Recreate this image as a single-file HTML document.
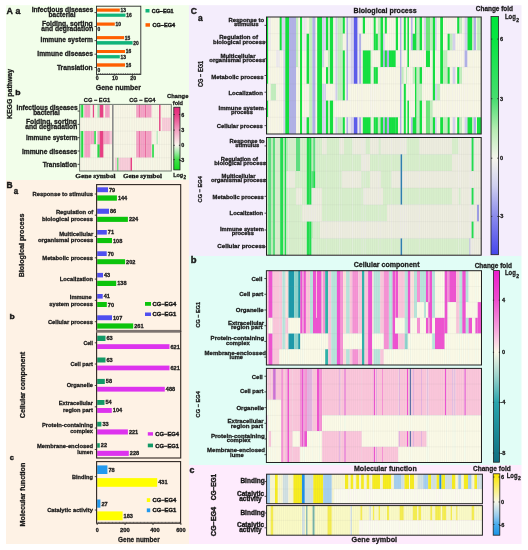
<!DOCTYPE html>
<html><head><meta charset="utf-8"><title>Figure</title>
<style>html,body{margin:0;padding:0;background:#fff;}svg{display:block;}</style></head>
<body><svg width="528" height="550" viewBox="0 0 528 550">
<rect x="0.00" y="0.00" width="528.00" height="550.00" fill="#ffffff" />
<rect x="6.00" y="5.20" width="183.00" height="174.80" fill="#f2feea" />
<rect x="6.00" y="180.00" width="183.00" height="364.00" fill="#fef2e5" />
<rect x="189.00" y="5.20" width="332.50" height="250.80" fill="#f4edfc" />
<rect x="189.00" y="256.00" width="332.50" height="209.00" fill="#e1fdf6" />
<rect x="189.00" y="465.00" width="332.50" height="79.00" fill="#feebfd" />
<text x="6.60" y="13.60" font-size="8.6" font-family="'Liberation Sans', Arial, sans-serif" font-weight="bold" fill="#1a1a1a" stroke="#1a1a1a" stroke-width="0.35" text-anchor="start" textLength="6.40" lengthAdjust="spacingAndGlyphs">A</text>
<text x="15.60" y="13.90" font-size="8.7" font-family="'Liberation Sans', Arial, sans-serif" font-weight="bold" fill="#1a1a1a" stroke="#1a1a1a" stroke-width="0.4" text-anchor="start" textLength="4.90" lengthAdjust="spacingAndGlyphs">a</text>
<text x="31.70" y="12.00" font-size="6.56" font-family="'Liberation Sans', Arial, sans-serif" font-weight="bold" fill="#1a1a1a" stroke="#1a1a1a" stroke-width="0.28" text-anchor="start" textLength="61.60" lengthAdjust="spacingAndGlyphs">Infectious diseases</text>
<text x="48.60" y="16.60" font-size="6.56" font-family="'Liberation Sans', Arial, sans-serif" font-weight="bold" fill="#1a1a1a" stroke="#1a1a1a" stroke-width="0.28" text-anchor="start" textLength="26.90" lengthAdjust="spacingAndGlyphs">bacterial</text>
<text x="41.90" y="25.90" font-size="6.56" font-family="'Liberation Sans', Arial, sans-serif" font-weight="bold" fill="#1a1a1a" stroke="#1a1a1a" stroke-width="0.28" text-anchor="start" textLength="50.80" lengthAdjust="spacingAndGlyphs">Folding, sorting</text>
<text x="41.30" y="30.50" font-size="6.56" font-family="'Liberation Sans', Arial, sans-serif" font-weight="bold" fill="#1a1a1a" stroke="#1a1a1a" stroke-width="0.28" text-anchor="start" textLength="52.00" lengthAdjust="spacingAndGlyphs">and degradation</text>
<text x="40.60" y="41.90" font-size="6.56" font-family="'Liberation Sans', Arial, sans-serif" font-weight="bold" fill="#1a1a1a" stroke="#1a1a1a" stroke-width="0.28" text-anchor="start" textLength="52.40" lengthAdjust="spacingAndGlyphs">Immune systerm</text>
<text x="37.30" y="55.90" font-size="6.56" font-family="'Liberation Sans', Arial, sans-serif" font-weight="bold" fill="#1a1a1a" stroke="#1a1a1a" stroke-width="0.28" text-anchor="start" textLength="55.70" lengthAdjust="spacingAndGlyphs">Immune diseases</text>
<text x="56.90" y="69.80" font-size="6.56" font-family="'Liberation Sans', Arial, sans-serif" font-weight="bold" fill="#1a1a1a" stroke="#1a1a1a" stroke-width="0.28" text-anchor="start" textLength="35.70" lengthAdjust="spacingAndGlyphs">Translation</text>
<rect x="97.00" y="8.50" width="22.80" height="3.20" fill="#ff5f00" />
<rect x="97.00" y="13.60" width="28.50" height="3.20" fill="#10b47a" />
<rect x="97.00" y="22.50" width="17.80" height="3.20" fill="#ff5f00" />
<rect x="97.00" y="36.10" width="27.10" height="3.10" fill="#ff5f00" />
<rect x="97.00" y="41.10" width="35.60" height="3.50" fill="#10b47a" />
<rect x="97.00" y="50.00" width="28.00" height="3.00" fill="#ff5f00" />
<rect x="97.00" y="55.10" width="22.80" height="3.30" fill="#10b47a" />
<rect x="97.00" y="63.30" width="28.00" height="3.40" fill="#ff5f00" />
<text x="120.50" y="12.00" font-size="4.9" font-family="'Liberation Sans', Arial, sans-serif" font-weight="bold" fill="#1a1a1a" stroke="#1a1a1a" stroke-width="0.28" text-anchor="start">13</text>
<text x="126.20" y="17.00" font-size="4.9" font-family="'Liberation Sans', Arial, sans-serif" font-weight="bold" fill="#1a1a1a" stroke="#1a1a1a" stroke-width="0.28" text-anchor="start">16</text>
<text x="115.50" y="26.00" font-size="4.9" font-family="'Liberation Sans', Arial, sans-serif" font-weight="bold" fill="#1a1a1a" stroke="#1a1a1a" stroke-width="0.28" text-anchor="start">10</text>
<text x="97.60" y="31.00" font-size="4.9" font-family="'Liberation Sans', Arial, sans-serif" font-weight="bold" fill="#1a1a1a" stroke="#1a1a1a" stroke-width="0.28" text-anchor="start">0</text>
<text x="124.80" y="39.50" font-size="4.9" font-family="'Liberation Sans', Arial, sans-serif" font-weight="bold" fill="#1a1a1a" stroke="#1a1a1a" stroke-width="0.28" text-anchor="start">15</text>
<text x="133.20" y="45.00" font-size="4.9" font-family="'Liberation Sans', Arial, sans-serif" font-weight="bold" fill="#1a1a1a" stroke="#1a1a1a" stroke-width="0.28" text-anchor="start">20</text>
<text x="125.70" y="53.30" font-size="4.9" font-family="'Liberation Sans', Arial, sans-serif" font-weight="bold" fill="#1a1a1a" stroke="#1a1a1a" stroke-width="0.28" text-anchor="start">16</text>
<text x="120.50" y="58.60" font-size="4.9" font-family="'Liberation Sans', Arial, sans-serif" font-weight="bold" fill="#1a1a1a" stroke="#1a1a1a" stroke-width="0.28" text-anchor="start">13</text>
<text x="125.70" y="67.00" font-size="4.9" font-family="'Liberation Sans', Arial, sans-serif" font-weight="bold" fill="#1a1a1a" stroke="#1a1a1a" stroke-width="0.28" text-anchor="start">16</text>
<text x="97.60" y="72.00" font-size="4.9" font-family="'Liberation Sans', Arial, sans-serif" font-weight="bold" fill="#1a1a1a" stroke="#1a1a1a" stroke-width="0.28" text-anchor="start">0</text>
<rect x="96.5" y="6.2" width="44.3" height="68.2" fill="none" stroke="#2a2a2a" stroke-width="0.9"/>
<line x1="94.50" y1="12.60" x2="96.50" y2="12.60" stroke="#222" stroke-width="0.8"/>
<line x1="94.50" y1="26.50" x2="96.50" y2="26.50" stroke="#222" stroke-width="0.8"/>
<line x1="94.50" y1="40.60" x2="96.50" y2="40.60" stroke="#222" stroke-width="0.8"/>
<line x1="94.50" y1="54.20" x2="96.50" y2="54.20" stroke="#222" stroke-width="0.8"/>
<line x1="94.50" y1="67.50" x2="96.50" y2="67.50" stroke="#222" stroke-width="0.8"/>
<line x1="97.00" y1="74.40" x2="97.00" y2="76.00" stroke="#222" stroke-width="0.8"/>
<line x1="114.80" y1="74.40" x2="114.80" y2="76.00" stroke="#222" stroke-width="0.8"/>
<line x1="132.60" y1="74.40" x2="132.60" y2="76.00" stroke="#222" stroke-width="0.8"/>
<text x="95.70" y="80.40" font-size="5.2" font-family="'Liberation Sans', Arial, sans-serif" font-weight="bold" fill="#1a1a1a" stroke="#1a1a1a" stroke-width="0.28" text-anchor="start">0</text>
<text x="112.00" y="80.40" font-size="5.2" font-family="'Liberation Sans', Arial, sans-serif" font-weight="bold" fill="#1a1a1a" stroke="#1a1a1a" stroke-width="0.28" text-anchor="start" textLength="5.80" lengthAdjust="spacingAndGlyphs">10</text>
<text x="130.30" y="80.40" font-size="5.2" font-family="'Liberation Sans', Arial, sans-serif" font-weight="bold" fill="#1a1a1a" stroke="#1a1a1a" stroke-width="0.28" text-anchor="start" textLength="5.70" lengthAdjust="spacingAndGlyphs">20</text>
<text x="95.70" y="90.00" font-size="7.0" font-family="'Liberation Sans', Arial, sans-serif" font-weight="bold" fill="#1a1a1a" stroke="#1a1a1a" stroke-width="0.28" text-anchor="start" textLength="45.30" lengthAdjust="spacingAndGlyphs">Gene number</text>
<rect x="145.50" y="9.00" width="4.00" height="3.50" fill="#10b47a" />
<text x="151.80" y="12.80" font-size="4.7" font-family="'Liberation Sans', Arial, sans-serif" font-weight="bold" fill="#1a1a1a" stroke="#1a1a1a" stroke-width="0.38" text-anchor="start" textLength="21.80" lengthAdjust="spacingAndGlyphs">CG−EG1</text>
<rect x="145.50" y="23.20" width="4.50" height="3.50" fill="#ff5f00" />
<text x="152.50" y="27.00" font-size="4.7" font-family="'Liberation Sans', Arial, sans-serif" font-weight="bold" fill="#1a1a1a" stroke="#1a1a1a" stroke-width="0.38" text-anchor="start" textLength="22.50" lengthAdjust="spacingAndGlyphs">CG−EG4</text>
<text x="15.20" y="94.60" font-size="7.8" font-family="'Liberation Sans', Arial, sans-serif" font-weight="bold" fill="#1a1a1a" stroke="#1a1a1a" stroke-width="0.4" text-anchor="start" textLength="5.30" lengthAdjust="spacingAndGlyphs">b</text>
<text transform="translate(12.40,119.10) rotate(-90)" x="0" y="0" font-size="6.8" font-family="'Liberation Sans', Arial, sans-serif" font-weight="bold" fill="#1a1a1a" stroke="#1a1a1a" stroke-width="0.28" textLength="50.20" lengthAdjust="spacingAndGlyphs">KEGG pathway</text>
<text x="83.80" y="102.20" font-size="5.5" font-family="'Liberation Sans', Arial, sans-serif" font-weight="bold" fill="#1a1a1a" stroke="#1a1a1a" stroke-width="0.28" text-anchor="start" textLength="26.50" lengthAdjust="spacingAndGlyphs">CG − EG1</text>
<text x="129.30" y="102.00" font-size="5.5" font-family="'Liberation Sans', Arial, sans-serif" font-weight="bold" fill="#1a1a1a" stroke="#1a1a1a" stroke-width="0.28" text-anchor="start" textLength="26.20" lengthAdjust="spacingAndGlyphs">CG − EG4</text>
<text x="16.60" y="110.30" font-size="6.56" font-family="'Liberation Sans', Arial, sans-serif" font-weight="bold" fill="#1a1a1a" stroke="#1a1a1a" stroke-width="0.28" text-anchor="start" textLength="61.00" lengthAdjust="spacingAndGlyphs">Infectious diseases</text>
<text x="33.20" y="114.60" font-size="6.56" font-family="'Liberation Sans', Arial, sans-serif" font-weight="bold" fill="#1a1a1a" stroke="#1a1a1a" stroke-width="0.28" text-anchor="start" textLength="26.50" lengthAdjust="spacingAndGlyphs">bacterial</text>
<text x="25.90" y="124.10" font-size="6.56" font-family="'Liberation Sans', Arial, sans-serif" font-weight="bold" fill="#1a1a1a" stroke="#1a1a1a" stroke-width="0.28" text-anchor="start" textLength="51.10" lengthAdjust="spacingAndGlyphs">Folding, sorting</text>
<text x="25.30" y="128.90" font-size="6.56" font-family="'Liberation Sans', Arial, sans-serif" font-weight="bold" fill="#1a1a1a" stroke="#1a1a1a" stroke-width="0.28" text-anchor="start" textLength="52.00" lengthAdjust="spacingAndGlyphs">and degradation</text>
<text x="25.90" y="140.30" font-size="6.56" font-family="'Liberation Sans', Arial, sans-serif" font-weight="bold" fill="#1a1a1a" stroke="#1a1a1a" stroke-width="0.28" text-anchor="start" textLength="51.70" lengthAdjust="spacingAndGlyphs">Immune systerm</text>
<text x="21.90" y="153.90" font-size="6.56" font-family="'Liberation Sans', Arial, sans-serif" font-weight="bold" fill="#1a1a1a" stroke="#1a1a1a" stroke-width="0.28" text-anchor="start" textLength="55.40" lengthAdjust="spacingAndGlyphs">Immune diseases</text>
<text x="42.80" y="166.50" font-size="6.56" font-family="'Liberation Sans', Arial, sans-serif" font-weight="bold" fill="#1a1a1a" stroke="#1a1a1a" stroke-width="0.28" text-anchor="start" textLength="34.20" lengthAdjust="spacingAndGlyphs">Translation</text>
<rect x="79.60" y="104.40" width="1.62" height="13.32" fill="#a8ecb8"/>
<rect x="79.60" y="117.72" width="1.62" height="13.32" fill="#f8f6e6"/>
<rect x="79.60" y="131.04" width="1.62" height="26.64" fill="#a8ecb8"/>
<rect x="79.60" y="157.68" width="1.62" height="13.32" fill="#f8f6e6"/>
<rect x="81.20" y="104.40" width="2.32" height="13.32" fill="#22dd44"/>
<rect x="81.20" y="117.72" width="2.32" height="13.32" fill="#f8f6e6"/>
<rect x="81.20" y="131.04" width="2.32" height="26.64" fill="#22dd44"/>
<rect x="81.20" y="157.68" width="2.32" height="13.32" fill="#f8f6e6"/>
<rect x="83.50" y="104.40" width="0.82" height="66.60" fill="#f8f6e6"/>
<rect x="84.30" y="104.40" width="6.22" height="13.32" fill="#f6a2c6"/>
<rect x="84.30" y="117.72" width="6.22" height="13.32" fill="#f8f6e6"/>
<rect x="84.30" y="131.04" width="6.22" height="26.64" fill="#f6a2c6"/>
<rect x="84.30" y="157.68" width="6.22" height="13.32" fill="#f8f6e6"/>
<rect x="90.50" y="104.40" width="2.32" height="26.64" fill="#f8f6e6"/>
<rect x="90.50" y="131.04" width="2.32" height="13.32" fill="#f6a2c6"/>
<rect x="90.50" y="144.36" width="2.32" height="26.64" fill="#f8f6e6"/>
<rect x="92.80" y="104.40" width="1.52" height="13.32" fill="#ea3f85"/>
<rect x="92.80" y="117.72" width="1.52" height="13.32" fill="#f8f6e6"/>
<rect x="92.80" y="131.04" width="1.52" height="13.32" fill="#f6a2c6"/>
<rect x="92.80" y="144.36" width="1.52" height="26.64" fill="#f8f6e6"/>
<rect x="94.30" y="104.40" width="1.62" height="26.64" fill="#f8f6e6"/>
<rect x="94.30" y="131.04" width="1.62" height="13.32" fill="#22dd44"/>
<rect x="94.30" y="144.36" width="1.62" height="26.64" fill="#f8f6e6"/>
<rect x="95.90" y="104.40" width="1.52" height="66.60" fill="#f8f6e6"/>
<rect x="97.40" y="104.40" width="2.32" height="13.32" fill="#a8ecb8"/>
<rect x="97.40" y="117.72" width="2.32" height="13.32" fill="#f8f6e6"/>
<rect x="97.40" y="131.04" width="2.32" height="13.32" fill="#f6a2c6"/>
<rect x="97.40" y="144.36" width="2.32" height="13.32" fill="#22dd44"/>
<rect x="97.40" y="157.68" width="2.32" height="13.32" fill="#f8f6e6"/>
<rect x="99.70" y="104.40" width="3.92" height="13.32" fill="#ea3f85"/>
<rect x="99.70" y="117.72" width="3.92" height="13.32" fill="#f8f6e6"/>
<rect x="99.70" y="131.04" width="3.92" height="26.64" fill="#ea3f85"/>
<rect x="99.70" y="157.68" width="3.92" height="13.32" fill="#f8f6e6"/>
<rect x="103.60" y="104.40" width="1.52" height="26.64" fill="#f8f6e6"/>
<rect x="103.60" y="131.04" width="1.52" height="13.32" fill="#f6a2c6"/>
<rect x="103.60" y="144.36" width="1.52" height="26.64" fill="#f8f6e6"/>
<rect x="105.10" y="104.40" width="4.72" height="13.32" fill="#f6a2c6"/>
<rect x="105.10" y="117.72" width="4.72" height="13.32" fill="#f8f6e6"/>
<rect x="105.10" y="131.04" width="4.72" height="13.32" fill="#f6a2c6"/>
<rect x="105.10" y="144.36" width="4.72" height="26.64" fill="#f8f6e6"/>
<rect x="109.80" y="104.40" width="2.22" height="26.64" fill="#f8f6e6"/>
<rect x="109.80" y="131.04" width="2.22" height="13.32" fill="#f9cdda"/>
<rect x="109.80" y="144.36" width="2.22" height="26.64" fill="#f8f6e6"/>
<path d="M81.90 104.4V171.0M84.20 104.4V171.0M86.50 104.4V171.0M88.80 104.4V171.0M91.10 104.4V171.0M93.40 104.4V171.0M95.70 104.4V171.0M98.00 104.4V171.0M100.30 104.4V171.0M102.60 104.4V171.0M104.90 104.4V171.0M107.20 104.4V171.0M109.50 104.4V171.0" stroke="#9a9a90" stroke-width="0.35" opacity="0.22" fill="none"/>
<path d="M79.6 117.72H112.0M79.6 131.04H112.0M79.6 144.36H112.0M79.6 157.68H112.0" stroke="#9a9a90" stroke-width="0.35" opacity="0.22" fill="none"/>
<rect x="113.60" y="104.40" width="1.32" height="66.60" fill="#f8f6e6"/>
<rect x="114.90" y="104.40" width="2.52" height="53.28" fill="#f8f6e6"/>
<rect x="114.90" y="157.68" width="2.52" height="13.32" fill="#f9cdda"/>
<rect x="117.40" y="104.40" width="1.12" height="53.28" fill="#f8f6e6"/>
<rect x="117.40" y="157.68" width="1.12" height="13.32" fill="#22dd44"/>
<rect x="118.50" y="104.40" width="12.02" height="53.28" fill="#f8f6e6"/>
<rect x="118.50" y="157.68" width="12.02" height="13.32" fill="#f9cdda"/>
<rect x="130.50" y="104.40" width="1.52" height="53.28" fill="#f8f6e6"/>
<rect x="130.50" y="157.68" width="1.52" height="13.32" fill="#ea3f85"/>
<rect x="132.00" y="104.40" width="4.22" height="66.60" fill="#f8f6e6"/>
<rect x="136.20" y="104.40" width="2.82" height="13.32" fill="#f6a2c6"/>
<rect x="136.20" y="117.72" width="2.82" height="13.32" fill="#f8f6e6"/>
<rect x="136.20" y="131.04" width="2.82" height="26.64" fill="#f6a2c6"/>
<rect x="136.20" y="157.68" width="2.82" height="13.32" fill="#f8f6e6"/>
<rect x="139.00" y="104.40" width="1.52" height="13.32" fill="#ee6fa4"/>
<rect x="139.00" y="117.72" width="1.52" height="13.32" fill="#f8f6e6"/>
<rect x="139.00" y="131.04" width="1.52" height="26.64" fill="#ee6fa4"/>
<rect x="139.00" y="157.68" width="1.52" height="13.32" fill="#f8f6e6"/>
<rect x="140.50" y="104.40" width="4.52" height="13.32" fill="#f6a2c6"/>
<rect x="140.50" y="117.72" width="4.52" height="13.32" fill="#f8f6e6"/>
<rect x="140.50" y="131.04" width="4.52" height="26.64" fill="#f6a2c6"/>
<rect x="140.50" y="157.68" width="4.52" height="13.32" fill="#f8f6e6"/>
<rect x="145.00" y="104.40" width="1.52" height="13.32" fill="#ee6fa4"/>
<rect x="145.00" y="117.72" width="1.52" height="13.32" fill="#f8f6e6"/>
<rect x="145.00" y="131.04" width="1.52" height="26.64" fill="#ee6fa4"/>
<rect x="145.00" y="157.68" width="1.52" height="13.32" fill="#f8f6e6"/>
<rect x="146.50" y="104.40" width="5.22" height="13.32" fill="#f6a2c6"/>
<rect x="146.50" y="117.72" width="5.22" height="13.32" fill="#f8f6e6"/>
<rect x="146.50" y="131.04" width="5.22" height="26.64" fill="#f6a2c6"/>
<rect x="146.50" y="157.68" width="5.22" height="13.32" fill="#f8f6e6"/>
<rect x="151.70" y="104.40" width="0.52" height="66.60" fill="#f8f6e6"/>
<rect x="152.20" y="104.40" width="1.72" height="39.96" fill="#f8f6e6"/>
<rect x="152.20" y="144.36" width="1.72" height="13.32" fill="#22dd44"/>
<rect x="152.20" y="157.68" width="1.72" height="13.32" fill="#f8f6e6"/>
<rect x="153.90" y="104.40" width="2.72" height="66.60" fill="#f8f6e6"/>
<rect x="156.60" y="104.40" width="1.22" height="26.64" fill="#f8f6e6"/>
<rect x="156.60" y="131.04" width="1.22" height="13.32" fill="#a8ecb8"/>
<rect x="156.60" y="144.36" width="1.22" height="26.64" fill="#f8f6e6"/>
<rect x="157.80" y="104.40" width="1.32" height="66.60" fill="#f8f6e6"/>
<rect x="159.10" y="104.40" width="1.62" height="26.64" fill="#ea3f85"/>
<rect x="159.10" y="131.04" width="1.62" height="39.96" fill="#f8f6e6"/>
<rect x="160.70" y="104.40" width="1.32" height="66.60" fill="#f8f6e6"/>
<rect x="162.00" y="104.40" width="9.32" height="13.32" fill="#f8f6e6"/>
<rect x="162.00" y="117.72" width="9.32" height="13.32" fill="#f9cdda"/>
<rect x="162.00" y="131.04" width="9.32" height="39.96" fill="#f8f6e6"/>
<path d="M115.90 104.4V171.0M118.20 104.4V171.0M120.50 104.4V171.0M122.80 104.4V171.0M125.10 104.4V171.0M127.40 104.4V171.0M129.70 104.4V171.0M132.00 104.4V171.0M134.30 104.4V171.0M136.60 104.4V171.0M138.90 104.4V171.0M141.20 104.4V171.0M143.50 104.4V171.0M145.80 104.4V171.0M148.10 104.4V171.0M150.40 104.4V171.0M152.70 104.4V171.0M155.00 104.4V171.0M157.30 104.4V171.0M159.60 104.4V171.0M161.90 104.4V171.0M164.20 104.4V171.0M166.50 104.4V171.0M168.80 104.4V171.0" stroke="#9a9a90" stroke-width="0.35" opacity="0.22" fill="none"/>
<path d="M113.6 117.72H171.3M113.6 131.04H171.3M113.6 144.36H171.3M113.6 157.68H171.3" stroke="#9a9a90" stroke-width="0.35" opacity="0.22" fill="none"/>
<rect x="79.60" y="104.40" width="91.70" height="66.60" fill="none" stroke="#6f7a70" stroke-width="1.0"/>
<rect x="112.00" y="104.40" width="1.60" height="66.60" fill="#8a8a8a"/>
<text x="75.30" y="177.50" font-size="6.2" font-family="'Liberation Serif', 'Times New Roman', serif" font-weight="bold" fill="#1a1a1a" stroke="#1a1a1a" stroke-width="0.28" text-anchor="start" textLength="40.30" lengthAdjust="spacingAndGlyphs">Gene symbol</text>
<text x="122.90" y="177.50" font-size="6.2" font-family="'Liberation Serif', 'Times New Roman', serif" font-weight="bold" fill="#1a1a1a" stroke="#1a1a1a" stroke-width="0.28" text-anchor="start" textLength="39.10" lengthAdjust="spacingAndGlyphs">Gene symbol</text>
<text x="167.10" y="97.70" font-size="5.6" font-family="'Liberation Sans', Arial, sans-serif" font-weight="bold" fill="#1a1a1a" stroke="#1a1a1a" stroke-width="0.28" text-anchor="start" textLength="21.30" lengthAdjust="spacingAndGlyphs">Change</text>
<text x="172.80" y="104.80" font-size="5.6" font-family="'Liberation Sans', Arial, sans-serif" font-weight="bold" fill="#1a1a1a" stroke="#1a1a1a" stroke-width="0.28" text-anchor="start" textLength="10.20" lengthAdjust="spacingAndGlyphs">fold</text>
<text x="173.20" y="176.50" font-size="6.0" font-family="'Liberation Sans', Arial, sans-serif" font-weight="bold" fill="#1a1a1a" stroke="#1a1a1a" stroke-width="0.28" text-anchor="start" textLength="10.00" lengthAdjust="spacingAndGlyphs">Log</text>
<text x="183.50" y="178.60" font-size="4.6" font-family="'Liberation Sans', Arial, sans-serif" font-weight="bold" fill="#1a1a1a" stroke="#1a1a1a" stroke-width="0.28" text-anchor="start">2</text>
<defs><linearGradient id="gA" x1="0" y1="0" x2="0" y2="1"><stop offset="0" stop-color="#e6287a"/><stop offset="0.116" stop-color="#e83c86"/><stop offset="0.363" stop-color="#f4a0c2"/><stop offset="0.605" stop-color="#faf6ee"/><stop offset="0.72" stop-color="#a0eca8"/><stop offset="0.832" stop-color="#44e04c"/><stop offset="1" stop-color="#12dc1e"/></linearGradient></defs><rect x="173.8" y="107.2" width="6.199999999999989" height="62.7" fill="url(#gA)" stroke="#222" stroke-width="0.8"/>
<text x="6.40" y="187.60" font-size="8.2" font-family="'Liberation Sans', Arial, sans-serif" font-weight="bold" fill="#1a1a1a" stroke="#1a1a1a" stroke-width="0.35" text-anchor="start" textLength="6.10" lengthAdjust="spacingAndGlyphs">B</text>
<text x="13.80" y="193.60" font-size="8.5" font-family="'Liberation Sans', Arial, sans-serif" font-weight="bold" fill="#1a1a1a" stroke="#1a1a1a" stroke-width="0.4" text-anchor="start" textLength="4.40" lengthAdjust="spacingAndGlyphs">a</text>
<text x="9.50" y="319.00" font-size="7.6" font-family="'Liberation Sans', Arial, sans-serif" font-weight="bold" fill="#1a1a1a" stroke="#1a1a1a" stroke-width="0.4" text-anchor="start" textLength="5.20" lengthAdjust="spacingAndGlyphs">b</text>
<text x="9.80" y="460.10" font-size="7.4" font-family="'Liberation Sans', Arial, sans-serif" font-weight="bold" fill="#1a1a1a" stroke="#1a1a1a" stroke-width="0.4" text-anchor="start" textLength="4.20" lengthAdjust="spacingAndGlyphs">c</text>
<text transform="translate(24.30,277.30) rotate(-90)" x="0" y="0" font-size="7.0" font-family="'Liberation Sans', Arial, sans-serif" font-weight="bold" fill="#1a1a1a" stroke="#1a1a1a" stroke-width="0.28" textLength="63.70" lengthAdjust="spacingAndGlyphs">Biological process</text>
<text transform="translate(24.60,418.20) rotate(-90)" x="0" y="0" font-size="7.0" font-family="'Liberation Sans', Arial, sans-serif" font-weight="bold" fill="#1a1a1a" stroke="#1a1a1a" stroke-width="0.28" textLength="66.40" lengthAdjust="spacingAndGlyphs">Cellular component</text>
<text transform="translate(25.00,526.40) rotate(-90)" x="0" y="0" font-size="7.0" font-family="'Liberation Sans', Arial, sans-serif" font-weight="bold" fill="#1a1a1a" stroke="#1a1a1a" stroke-width="0.28" textLength="63.70" lengthAdjust="spacingAndGlyphs">Molecular function</text>
<text x="32.60" y="196.20" font-size="5.9" font-family="'Liberation Sans', Arial, sans-serif" font-weight="bold" fill="#1a1a1a" stroke="#1a1a1a" stroke-width="0.28" text-anchor="start" textLength="60.40" lengthAdjust="spacingAndGlyphs">Response to stimulus</text>
<text x="55.90" y="214.10" font-size="5.9" font-family="'Liberation Sans', Arial, sans-serif" font-weight="bold" fill="#1a1a1a" stroke="#1a1a1a" stroke-width="0.28" text-anchor="start" textLength="37.40" lengthAdjust="spacingAndGlyphs">Regulation of</text>
<text x="41.90" y="220.70" font-size="5.9" font-family="'Liberation Sans', Arial, sans-serif" font-weight="bold" fill="#1a1a1a" stroke="#1a1a1a" stroke-width="0.28" text-anchor="start" textLength="51.10" lengthAdjust="spacingAndGlyphs">biological process</text>
<text x="59.20" y="235.50" font-size="5.9" font-family="'Liberation Sans', Arial, sans-serif" font-weight="bold" fill="#1a1a1a" stroke="#1a1a1a" stroke-width="0.28" text-anchor="start" textLength="34.10" lengthAdjust="spacingAndGlyphs">Multicellular</text>
<text x="37.90" y="242.20" font-size="5.9" font-family="'Liberation Sans', Arial, sans-serif" font-weight="bold" fill="#1a1a1a" stroke="#1a1a1a" stroke-width="0.28" text-anchor="start" textLength="55.40" lengthAdjust="spacingAndGlyphs">organismal process</text>
<text x="42.30" y="260.20" font-size="5.9" font-family="'Liberation Sans', Arial, sans-serif" font-weight="bold" fill="#1a1a1a" stroke="#1a1a1a" stroke-width="0.28" text-anchor="start" textLength="50.70" lengthAdjust="spacingAndGlyphs">Metabolic process</text>
<text x="59.80" y="281.20" font-size="5.9" font-family="'Liberation Sans', Arial, sans-serif" font-weight="bold" fill="#1a1a1a" stroke="#1a1a1a" stroke-width="0.28" text-anchor="start" textLength="33.20" lengthAdjust="spacingAndGlyphs">Localization</text>
<text x="69.80" y="299.10" font-size="5.9" font-family="'Liberation Sans', Arial, sans-serif" font-weight="bold" fill="#1a1a1a" stroke="#1a1a1a" stroke-width="0.28" text-anchor="start" textLength="21.90" lengthAdjust="spacingAndGlyphs">Immune</text>
<text x="49.20" y="306.00" font-size="5.9" font-family="'Liberation Sans', Arial, sans-serif" font-weight="bold" fill="#1a1a1a" stroke="#1a1a1a" stroke-width="0.28" text-anchor="start" textLength="43.80" lengthAdjust="spacingAndGlyphs">system process</text>
<text x="47.90" y="324.00" font-size="5.9" font-family="'Liberation Sans', Arial, sans-serif" font-weight="bold" fill="#1a1a1a" stroke="#1a1a1a" stroke-width="0.28" text-anchor="start" textLength="45.10" lengthAdjust="spacingAndGlyphs">Cellular process</text>
<text x="83.40" y="344.50" font-size="5.9" font-family="'Liberation Sans', Arial, sans-serif" font-weight="bold" fill="#1a1a1a" stroke="#1a1a1a" stroke-width="0.28" text-anchor="start" textLength="9.60" lengthAdjust="spacingAndGlyphs">Cell</text>
<text x="70.40" y="365.70" font-size="5.9" font-family="'Liberation Sans', Arial, sans-serif" font-weight="bold" fill="#1a1a1a" stroke="#1a1a1a" stroke-width="0.28" text-anchor="start" textLength="22.60" lengthAdjust="spacingAndGlyphs">Cell part</text>
<text x="66.70" y="387.30" font-size="5.9" font-family="'Liberation Sans', Arial, sans-serif" font-weight="bold" fill="#1a1a1a" stroke="#1a1a1a" stroke-width="0.28" text-anchor="start" textLength="26.30" lengthAdjust="spacingAndGlyphs">Organelle</text>
<text x="58.80" y="405.30" font-size="5.9" font-family="'Liberation Sans', Arial, sans-serif" font-weight="bold" fill="#1a1a1a" stroke="#1a1a1a" stroke-width="0.28" text-anchor="start" textLength="34.20" lengthAdjust="spacingAndGlyphs">Extracellular</text>
<text x="63.10" y="412.00" font-size="5.9" font-family="'Liberation Sans', Arial, sans-serif" font-weight="bold" fill="#1a1a1a" stroke="#1a1a1a" stroke-width="0.28" text-anchor="start" textLength="29.90" lengthAdjust="spacingAndGlyphs">region part</text>
<text x="41.90" y="426.60" font-size="5.9" font-family="'Liberation Sans', Arial, sans-serif" font-weight="bold" fill="#1a1a1a" stroke="#1a1a1a" stroke-width="0.28" text-anchor="start" textLength="51.10" lengthAdjust="spacingAndGlyphs">Protein-containing</text>
<text x="70.20" y="433.20" font-size="5.9" font-family="'Liberation Sans', Arial, sans-serif" font-weight="bold" fill="#1a1a1a" stroke="#1a1a1a" stroke-width="0.28" text-anchor="start" textLength="22.80" lengthAdjust="spacingAndGlyphs">complex</text>
<text x="37.00" y="448.00" font-size="5.9" font-family="'Liberation Sans', Arial, sans-serif" font-weight="bold" fill="#1a1a1a" stroke="#1a1a1a" stroke-width="0.28" text-anchor="start" textLength="56.00" lengthAdjust="spacingAndGlyphs">Membrane-enclosed</text>
<text x="77.30" y="454.40" font-size="5.9" font-family="'Liberation Sans', Arial, sans-serif" font-weight="bold" fill="#1a1a1a" stroke="#1a1a1a" stroke-width="0.28" text-anchor="start" textLength="15.70" lengthAdjust="spacingAndGlyphs">lumen</text>
<text x="72.00" y="478.80" font-size="5.9" font-family="'Liberation Sans', Arial, sans-serif" font-weight="bold" fill="#1a1a1a" stroke="#1a1a1a" stroke-width="0.28" text-anchor="start" textLength="20.90" lengthAdjust="spacingAndGlyphs">Binding</text>
<text x="47.20" y="511.70" font-size="5.9" font-family="'Liberation Sans', Arial, sans-serif" font-weight="bold" fill="#1a1a1a" stroke="#1a1a1a" stroke-width="0.28" text-anchor="start" textLength="45.70" lengthAdjust="spacingAndGlyphs">Catalytic activity</text>
<rect x="97.20" y="187.30" width="10.80" height="4.90" fill="#4f4ff0" />
<text x="109.00" y="191.75" font-size="5.6" font-family="'Liberation Sans', Arial, sans-serif" font-weight="bold" fill="#1a1a1a" stroke="#1a1a1a" stroke-width="0.28" text-anchor="start">79</text>
<rect x="97.20" y="195.40" width="19.70" height="5.30" fill="#0cc40c" />
<text x="117.90" y="200.05" font-size="5.6" font-family="'Liberation Sans', Arial, sans-serif" font-weight="bold" fill="#1a1a1a" stroke="#1a1a1a" stroke-width="0.28" text-anchor="start">144</text>
<rect x="97.20" y="208.70" width="11.80" height="5.10" fill="#4f4ff0" />
<text x="110.00" y="213.25" font-size="5.6" font-family="'Liberation Sans', Arial, sans-serif" font-weight="bold" fill="#1a1a1a" stroke="#1a1a1a" stroke-width="0.28" text-anchor="start">86</text>
<rect x="97.20" y="216.80" width="30.70" height="5.10" fill="#0cc40c" />
<text x="128.90" y="221.35" font-size="5.6" font-family="'Liberation Sans', Arial, sans-serif" font-weight="bold" fill="#1a1a1a" stroke="#1a1a1a" stroke-width="0.28" text-anchor="start">224</text>
<rect x="97.20" y="230.00" width="9.60" height="4.60" fill="#4f4ff0" />
<text x="107.80" y="234.30" font-size="5.6" font-family="'Liberation Sans', Arial, sans-serif" font-weight="bold" fill="#1a1a1a" stroke="#1a1a1a" stroke-width="0.28" text-anchor="start">71</text>
<rect x="97.20" y="238.00" width="14.80" height="5.10" fill="#0cc40c" />
<text x="113.00" y="242.55" font-size="5.6" font-family="'Liberation Sans', Arial, sans-serif" font-weight="bold" fill="#1a1a1a" stroke="#1a1a1a" stroke-width="0.28" text-anchor="start">108</text>
<rect x="97.20" y="251.30" width="9.50" height="4.70" fill="#4f4ff0" />
<text x="107.70" y="255.65" font-size="5.6" font-family="'Liberation Sans', Arial, sans-serif" font-weight="bold" fill="#1a1a1a" stroke="#1a1a1a" stroke-width="0.28" text-anchor="start">70</text>
<rect x="97.20" y="259.20" width="27.90" height="5.00" fill="#0cc40c" />
<text x="126.10" y="263.70" font-size="5.6" font-family="'Liberation Sans', Arial, sans-serif" font-weight="bold" fill="#1a1a1a" stroke="#1a1a1a" stroke-width="0.28" text-anchor="start">202</text>
<rect x="97.20" y="272.90" width="5.80" height="4.50" fill="#4f4ff0" />
<text x="104.00" y="277.15" font-size="5.6" font-family="'Liberation Sans', Arial, sans-serif" font-weight="bold" fill="#1a1a1a" stroke="#1a1a1a" stroke-width="0.28" text-anchor="start">43</text>
<rect x="97.20" y="280.80" width="19.00" height="5.20" fill="#0cc40c" />
<text x="117.20" y="285.40" font-size="5.6" font-family="'Liberation Sans', Arial, sans-serif" font-weight="bold" fill="#1a1a1a" stroke="#1a1a1a" stroke-width="0.28" text-anchor="start">138</text>
<rect x="97.20" y="294.00" width="5.50" height="4.60" fill="#4f4ff0" />
<text x="103.70" y="298.30" font-size="5.6" font-family="'Liberation Sans', Arial, sans-serif" font-weight="bold" fill="#1a1a1a" stroke="#1a1a1a" stroke-width="0.28" text-anchor="start">41</text>
<rect x="97.20" y="302.00" width="9.60" height="5.00" fill="#0cc40c" />
<text x="107.80" y="306.50" font-size="5.6" font-family="'Liberation Sans', Arial, sans-serif" font-weight="bold" fill="#1a1a1a" stroke="#1a1a1a" stroke-width="0.28" text-anchor="start">70</text>
<rect x="97.20" y="315.30" width="14.80" height="4.90" fill="#4f4ff0" />
<text x="113.00" y="319.75" font-size="5.6" font-family="'Liberation Sans', Arial, sans-serif" font-weight="bold" fill="#1a1a1a" stroke="#1a1a1a" stroke-width="0.28" text-anchor="start">107</text>
<rect x="97.20" y="323.40" width="36.00" height="5.20" fill="#0cc40c" />
<text x="134.20" y="328.00" font-size="5.6" font-family="'Liberation Sans', Arial, sans-serif" font-weight="bold" fill="#1a1a1a" stroke="#1a1a1a" stroke-width="0.28" text-anchor="start">261</text>
<rect x="97.20" y="335.70" width="8.30" height="5.30" fill="#129966" />
<text x="106.50" y="340.35" font-size="5.6" font-family="'Liberation Sans', Arial, sans-serif" font-weight="bold" fill="#1a1a1a" stroke="#1a1a1a" stroke-width="0.28" text-anchor="start">63</text>
<rect x="97.20" y="344.20" width="72.30" height="4.80" fill="#dd33ee" />
<text x="170.50" y="348.60" font-size="5.6" font-family="'Liberation Sans', Arial, sans-serif" font-weight="bold" fill="#1a1a1a" stroke="#1a1a1a" stroke-width="0.28" text-anchor="start">621</text>
<rect x="97.20" y="357.50" width="8.30" height="5.00" fill="#129966" />
<text x="106.50" y="362.00" font-size="5.6" font-family="'Liberation Sans', Arial, sans-serif" font-weight="bold" fill="#1a1a1a" stroke="#1a1a1a" stroke-width="0.28" text-anchor="start">63</text>
<rect x="97.20" y="365.60" width="72.30" height="4.70" fill="#dd33ee" />
<text x="170.50" y="369.95" font-size="5.6" font-family="'Liberation Sans', Arial, sans-serif" font-weight="bold" fill="#1a1a1a" stroke="#1a1a1a" stroke-width="0.28" text-anchor="start">621</text>
<rect x="97.20" y="378.90" width="7.60" height="5.10" fill="#129966" />
<text x="105.80" y="383.45" font-size="5.6" font-family="'Liberation Sans', Arial, sans-serif" font-weight="bold" fill="#1a1a1a" stroke="#1a1a1a" stroke-width="0.28" text-anchor="start">58</text>
<rect x="97.20" y="386.80" width="67.60" height="4.80" fill="#dd33ee" />
<text x="165.80" y="391.20" font-size="5.6" font-family="'Liberation Sans', Arial, sans-serif" font-weight="bold" fill="#1a1a1a" stroke="#1a1a1a" stroke-width="0.28" text-anchor="start">488</text>
<rect x="97.20" y="400.00" width="7.30" height="4.90" fill="#129966" />
<text x="105.50" y="404.45" font-size="5.6" font-family="'Liberation Sans', Arial, sans-serif" font-weight="bold" fill="#1a1a1a" stroke="#1a1a1a" stroke-width="0.28" text-anchor="start">54</text>
<rect x="97.20" y="408.00" width="14.60" height="4.90" fill="#dd33ee" />
<text x="112.80" y="412.45" font-size="5.6" font-family="'Liberation Sans', Arial, sans-serif" font-weight="bold" fill="#1a1a1a" stroke="#1a1a1a" stroke-width="0.28" text-anchor="start">104</text>
<rect x="97.20" y="421.80" width="4.20" height="4.70" fill="#129966" />
<text x="102.40" y="426.15" font-size="5.6" font-family="'Liberation Sans', Arial, sans-serif" font-weight="bold" fill="#1a1a1a" stroke="#1a1a1a" stroke-width="0.28" text-anchor="start">33</text>
<rect x="97.20" y="429.40" width="30.70" height="5.10" fill="#dd33ee" />
<text x="128.90" y="433.95" font-size="5.6" font-family="'Liberation Sans', Arial, sans-serif" font-weight="bold" fill="#1a1a1a" stroke="#1a1a1a" stroke-width="0.28" text-anchor="start">221</text>
<rect x="97.20" y="443.20" width="2.60" height="4.50" fill="#129966" />
<text x="100.80" y="447.45" font-size="5.6" font-family="'Liberation Sans', Arial, sans-serif" font-weight="bold" fill="#1a1a1a" stroke="#1a1a1a" stroke-width="0.28" text-anchor="start">22</text>
<rect x="97.20" y="450.80" width="31.60" height="5.10" fill="#dd33ee" />
<text x="129.80" y="455.35" font-size="5.6" font-family="'Liberation Sans', Arial, sans-serif" font-weight="bold" fill="#1a1a1a" stroke="#1a1a1a" stroke-width="0.28" text-anchor="start">228</text>
<rect x="97.20" y="465.40" width="10.20" height="8.60" fill="#2299ee" />
<text x="108.40" y="471.70" font-size="5.6" font-family="'Liberation Sans', Arial, sans-serif" font-weight="bold" fill="#1a1a1a" stroke="#1a1a1a" stroke-width="0.28" text-anchor="start">78</text>
<rect x="97.20" y="478.10" width="60.00" height="8.70" fill="#ffff00" />
<text x="158.20" y="484.45" font-size="5.6" font-family="'Liberation Sans', Arial, sans-serif" font-weight="bold" fill="#1a1a1a" stroke="#1a1a1a" stroke-width="0.28" text-anchor="start">431</text>
<rect x="97.20" y="499.50" width="3.20" height="8.20" fill="#2299ee" />
<text x="101.40" y="505.60" font-size="5.6" font-family="'Liberation Sans', Arial, sans-serif" font-weight="bold" fill="#1a1a1a" stroke="#1a1a1a" stroke-width="0.28" text-anchor="start">27</text>
<rect x="97.20" y="511.40" width="25.40" height="8.90" fill="#ffff00" />
<text x="123.60" y="517.85" font-size="5.6" font-family="'Liberation Sans', Arial, sans-serif" font-weight="bold" fill="#1a1a1a" stroke="#1a1a1a" stroke-width="0.28" text-anchor="start">183</text>
<rect x="96.6" y="184.6" width="84.1" height="146.7" fill="none" stroke="#2e2622" stroke-width="1.1"/>
<rect x="96.6" y="331.3" width="84.1" height="126.7" fill="none" stroke="#2e2622" stroke-width="1.1"/>
<rect x="96.10" y="329.90" width="84.10" height="2.80" fill="#7d7470" />
<rect x="96.6" y="461.6" width="84.0" height="61.6" fill="none" stroke="#2e2622" stroke-width="1.1"/>
<line x1="94.80" y1="194.00" x2="96.60" y2="194.00" stroke="#222" stroke-width="0.8"/>
<line x1="94.80" y1="215.20" x2="96.60" y2="215.20" stroke="#222" stroke-width="0.8"/>
<line x1="94.80" y1="236.50" x2="96.60" y2="236.50" stroke="#222" stroke-width="0.8"/>
<line x1="94.80" y1="257.80" x2="96.60" y2="257.80" stroke="#222" stroke-width="0.8"/>
<line x1="94.80" y1="279.10" x2="96.60" y2="279.10" stroke="#222" stroke-width="0.8"/>
<line x1="94.80" y1="300.40" x2="96.60" y2="300.40" stroke="#222" stroke-width="0.8"/>
<line x1="94.80" y1="321.70" x2="96.60" y2="321.70" stroke="#222" stroke-width="0.8"/>
<line x1="94.80" y1="342.80" x2="96.60" y2="342.80" stroke="#222" stroke-width="0.8"/>
<line x1="94.80" y1="364.00" x2="96.60" y2="364.00" stroke="#222" stroke-width="0.8"/>
<line x1="94.80" y1="385.50" x2="96.60" y2="385.50" stroke="#222" stroke-width="0.8"/>
<line x1="94.80" y1="406.80" x2="96.60" y2="406.80" stroke="#222" stroke-width="0.8"/>
<line x1="94.80" y1="428.00" x2="96.60" y2="428.00" stroke="#222" stroke-width="0.8"/>
<line x1="94.80" y1="449.50" x2="96.60" y2="449.50" stroke="#222" stroke-width="0.8"/>
<line x1="94.80" y1="476.60" x2="96.60" y2="476.60" stroke="#222" stroke-width="0.8"/>
<line x1="94.80" y1="510.00" x2="96.60" y2="510.00" stroke="#222" stroke-width="0.8"/>
<line x1="97.20" y1="523.20" x2="97.20" y2="525.00" stroke="#222" stroke-width="0.8"/>
<line x1="125.10" y1="523.20" x2="125.10" y2="525.00" stroke="#222" stroke-width="0.8"/>
<line x1="153.00" y1="523.20" x2="153.00" y2="525.00" stroke="#222" stroke-width="0.8"/>
<line x1="180.90" y1="523.20" x2="180.90" y2="525.00" stroke="#222" stroke-width="0.8"/>
<path d="M98.59 523.2v-1.4M99.99 523.2v-1.4M101.39 523.2v-1.4M102.78 523.2v-1.4M104.17 523.2v-1.4M105.57 523.2v-1.4M106.97 523.2v-1.4M108.36 523.2v-1.4M109.75 523.2v-1.4M111.15 523.2v-1.4M112.55 523.2v-1.4M113.94 523.2v-1.4M115.34 523.2v-1.4M116.73 523.2v-1.4M118.12 523.2v-1.4M119.52 523.2v-1.4M120.92 523.2v-1.4M122.31 523.2v-1.4M123.70 523.2v-1.4M125.10 523.2v-1.4M126.50 523.2v-1.4M127.89 523.2v-1.4M129.28 523.2v-1.4M130.68 523.2v-1.4M132.07 523.2v-1.4M133.47 523.2v-1.4M134.87 523.2v-1.4M136.26 523.2v-1.4M137.66 523.2v-1.4M139.05 523.2v-1.4M140.44 523.2v-1.4M141.84 523.2v-1.4M143.24 523.2v-1.4M144.63 523.2v-1.4M146.03 523.2v-1.4M147.42 523.2v-1.4M148.81 523.2v-1.4M150.21 523.2v-1.4M151.61 523.2v-1.4M153.00 523.2v-1.4M154.40 523.2v-1.4M155.79 523.2v-1.4M157.19 523.2v-1.4M158.58 523.2v-1.4M159.97 523.2v-1.4M161.37 523.2v-1.4M162.76 523.2v-1.4M164.16 523.2v-1.4M165.56 523.2v-1.4M166.95 523.2v-1.4M168.34 523.2v-1.4M169.74 523.2v-1.4M171.13 523.2v-1.4M172.53 523.2v-1.4M173.93 523.2v-1.4M175.32 523.2v-1.4M176.72 523.2v-1.4M178.11 523.2v-1.4M179.50 523.2v-1.4" stroke="#333" stroke-width="0.6"/>
<path d="M98.78 74.4v-1.4M100.56 74.4v-1.4M102.34 74.4v-1.4M104.12 74.4v-1.4M105.90 74.4v-1.4M107.68 74.4v-1.4M109.46 74.4v-1.4M111.24 74.4v-1.4M113.02 74.4v-1.4M114.80 74.4v-1.4M116.58 74.4v-1.4M118.36 74.4v-1.4M120.14 74.4v-1.4M121.92 74.4v-1.4M123.70 74.4v-1.4M125.48 74.4v-1.4M127.26 74.4v-1.4M129.04 74.4v-1.4M130.82 74.4v-1.4M132.60 74.4v-1.4M134.38 74.4v-1.4M136.16 74.4v-1.4M137.94 74.4v-1.4M139.72 74.4v-1.4" stroke="#333" stroke-width="0.6"/>
<text x="95.70" y="531.70" font-size="5.4" font-family="'Liberation Sans', Arial, sans-serif" font-weight="bold" fill="#1a1a1a" stroke="#1a1a1a" stroke-width="0.28" text-anchor="start">0</text>
<text x="120.00" y="531.70" font-size="5.4" font-family="'Liberation Sans', Arial, sans-serif" font-weight="bold" fill="#1a1a1a" stroke="#1a1a1a" stroke-width="0.28" text-anchor="start" textLength="9.80" lengthAdjust="spacingAndGlyphs">200</text>
<text x="150.20" y="531.70" font-size="5.4" font-family="'Liberation Sans', Arial, sans-serif" font-weight="bold" fill="#1a1a1a" stroke="#1a1a1a" stroke-width="0.28" text-anchor="start" textLength="9.50" lengthAdjust="spacingAndGlyphs">400</text>
<text x="176.20" y="531.70" font-size="5.4" font-family="'Liberation Sans', Arial, sans-serif" font-weight="bold" fill="#1a1a1a" stroke="#1a1a1a" stroke-width="0.28" text-anchor="start" textLength="9.40" lengthAdjust="spacingAndGlyphs">600</text>
<text x="118.00" y="541.80" font-size="6.4" font-family="'Liberation Sans', Arial, sans-serif" font-weight="bold" fill="#1a1a1a" stroke="#1a1a1a" stroke-width="0.28" text-anchor="start" textLength="41.70" lengthAdjust="spacingAndGlyphs">Gene number</text>
<rect x="145.00" y="302.00" width="6.00" height="3.80" fill="#0cc40c" />
<text x="152.50" y="306.00" font-size="5.3" font-family="'Liberation Sans', Arial, sans-serif" font-weight="bold" fill="#1a1a1a" stroke="#1a1a1a" stroke-width="0.38" text-anchor="start" textLength="23.70" lengthAdjust="spacingAndGlyphs">CG−EG4</text>
<rect x="145.00" y="312.50" width="6.00" height="3.50" fill="#4f4ff0" />
<text x="152.50" y="316.20" font-size="5.3" font-family="'Liberation Sans', Arial, sans-serif" font-weight="bold" fill="#1a1a1a" stroke="#1a1a1a" stroke-width="0.38" text-anchor="start" textLength="23.70" lengthAdjust="spacingAndGlyphs">CG−EG1</text>
<rect x="147.80" y="432.20" width="5.20" height="3.40" fill="#dd33ee" />
<text x="155.30" y="436.00" font-size="5.3" font-family="'Liberation Sans', Arial, sans-serif" font-weight="bold" fill="#1a1a1a" stroke="#1a1a1a" stroke-width="0.38" text-anchor="start" textLength="23.70" lengthAdjust="spacingAndGlyphs">CG−EG4</text>
<rect x="147.80" y="443.60" width="5.20" height="3.70" fill="#129966" />
<text x="155.30" y="447.50" font-size="5.3" font-family="'Liberation Sans', Arial, sans-serif" font-weight="bold" fill="#1a1a1a" stroke="#1a1a1a" stroke-width="0.38" text-anchor="start" textLength="23.70" lengthAdjust="spacingAndGlyphs">CG−EG1</text>
<rect x="146.80" y="498.20" width="3.40" height="3.80" fill="#ffff00" />
<text x="152.50" y="502.20" font-size="5.3" font-family="'Liberation Sans', Arial, sans-serif" font-weight="bold" fill="#1a1a1a" stroke="#1a1a1a" stroke-width="0.38" text-anchor="start" textLength="23.70" lengthAdjust="spacingAndGlyphs">CG−EG4</text>
<rect x="146.80" y="508.40" width="3.40" height="3.80" fill="#2299ee" />
<text x="152.50" y="512.40" font-size="5.3" font-family="'Liberation Sans', Arial, sans-serif" font-weight="bold" fill="#1a1a1a" stroke="#1a1a1a" stroke-width="0.38" text-anchor="start" textLength="23.70" lengthAdjust="spacingAndGlyphs">CG−EG1</text>
<text x="190.70" y="13.60" font-size="8.2" font-family="'Liberation Sans', Arial, sans-serif" font-weight="bold" fill="#1a1a1a" stroke="#1a1a1a" stroke-width="0.35" text-anchor="start" textLength="6.20" lengthAdjust="spacingAndGlyphs">C</text>
<text x="198.00" y="21.40" font-size="8.4" font-family="'Liberation Sans', Arial, sans-serif" font-weight="bold" fill="#1a1a1a" stroke="#1a1a1a" stroke-width="0.4" text-anchor="start" textLength="4.70" lengthAdjust="spacingAndGlyphs">a</text>
<text x="190.70" y="262.90" font-size="8.5" font-family="'Liberation Sans', Arial, sans-serif" font-weight="bold" fill="#1a1a1a" stroke="#1a1a1a" stroke-width="0.4" text-anchor="start" textLength="5.80" lengthAdjust="spacingAndGlyphs">b</text>
<text x="189.60" y="472.80" font-size="9.2" font-family="'Liberation Sans', Arial, sans-serif" font-weight="bold" fill="#1a1a1a" stroke="#1a1a1a" stroke-width="0.4" text-anchor="start" textLength="4.90" lengthAdjust="spacingAndGlyphs">c</text>
<text x="353.60" y="12.90" font-size="7.0" font-family="'Liberation Sans', Arial, sans-serif" font-weight="bold" fill="#1a1a1a" stroke="#1a1a1a" stroke-width="0.28" text-anchor="start" textLength="63.10" lengthAdjust="spacingAndGlyphs">Biological process</text>
<text x="353.70" y="267.20" font-size="7.0" font-family="'Liberation Sans', Arial, sans-serif" font-weight="bold" fill="#1a1a1a" stroke="#1a1a1a" stroke-width="0.28" text-anchor="start" textLength="65.80" lengthAdjust="spacingAndGlyphs">Cellular component</text>
<text x="354.00" y="471.40" font-size="7.0" font-family="'Liberation Sans', Arial, sans-serif" font-weight="bold" fill="#1a1a1a" stroke="#1a1a1a" stroke-width="0.28" text-anchor="start" textLength="62.70" lengthAdjust="spacingAndGlyphs">Molecular function</text>
<text x="351.60" y="541.90" font-size="7.0" font-family="'Liberation Sans', Arial, sans-serif" font-weight="bold" fill="#1a1a1a" stroke="#1a1a1a" stroke-width="0.28" text-anchor="start" textLength="45.50" lengthAdjust="spacingAndGlyphs">Gene symbol</text>
<text x="475.80" y="11.40" font-size="6.3" font-family="'Liberation Sans', Arial, sans-serif" font-weight="bold" fill="#1a1a1a" stroke="#1a1a1a" stroke-width="0.28" text-anchor="start" textLength="37.20" lengthAdjust="spacingAndGlyphs">Change fold</text>
<text x="474.70" y="267.50" font-size="6.3" font-family="'Liberation Sans', Arial, sans-serif" font-weight="bold" fill="#1a1a1a" stroke="#1a1a1a" stroke-width="0.28" text-anchor="start" textLength="37.30" lengthAdjust="spacingAndGlyphs">Change fold</text>
<text x="473.00" y="470.80" font-size="6.3" font-family="'Liberation Sans', Arial, sans-serif" font-weight="bold" fill="#1a1a1a" stroke="#1a1a1a" stroke-width="0.28" text-anchor="start" textLength="37.80" lengthAdjust="spacingAndGlyphs">Change fold</text>
<text x="505.00" y="19.30" font-size="6.6" font-family="'Liberation Sans', Arial, sans-serif" font-weight="bold" fill="#1a1a1a" stroke="#1a1a1a" stroke-width="0.28" text-anchor="start" textLength="10.80" lengthAdjust="spacingAndGlyphs">Log</text>
<text x="516.20" y="21.90" font-size="5.0" font-family="'Liberation Sans', Arial, sans-serif" font-weight="bold" fill="#1a1a1a" stroke="#1a1a1a" stroke-width="0.28" text-anchor="start">2</text>
<text x="505.00" y="275.40" font-size="6.6" font-family="'Liberation Sans', Arial, sans-serif" font-weight="bold" fill="#1a1a1a" stroke="#1a1a1a" stroke-width="0.28" text-anchor="start" textLength="10.80" lengthAdjust="spacingAndGlyphs">Log</text>
<text x="516.20" y="278.00" font-size="5.0" font-family="'Liberation Sans', Arial, sans-serif" font-weight="bold" fill="#1a1a1a" stroke="#1a1a1a" stroke-width="0.28" text-anchor="start">2</text>
<text x="506.70" y="477.60" font-size="6.6" font-family="'Liberation Sans', Arial, sans-serif" font-weight="bold" fill="#1a1a1a" stroke="#1a1a1a" stroke-width="0.28" text-anchor="start" textLength="10.80" lengthAdjust="spacingAndGlyphs">Log</text>
<text x="517.90" y="480.20" font-size="5.0" font-family="'Liberation Sans', Arial, sans-serif" font-weight="bold" fill="#1a1a1a" stroke="#1a1a1a" stroke-width="0.28" text-anchor="start">2</text>
<text x="228.40" y="22.10" font-size="6.0" font-family="'Liberation Sans', Arial, sans-serif" font-weight="bold" fill="#1a1a1a" stroke="#1a1a1a" stroke-width="0.28" text-anchor="start" textLength="35.70" lengthAdjust="spacingAndGlyphs">Response to</text>
<text x="233.90" y="26.30" font-size="6.0" font-family="'Liberation Sans', Arial, sans-serif" font-weight="bold" fill="#1a1a1a" stroke="#1a1a1a" stroke-width="0.28" text-anchor="start" textLength="24.70" lengthAdjust="spacingAndGlyphs">stimulus</text>
<text x="219.20" y="39.40" font-size="6.0" font-family="'Liberation Sans', Arial, sans-serif" font-weight="bold" fill="#1a1a1a" stroke="#1a1a1a" stroke-width="0.28" text-anchor="start" textLength="38.80" lengthAdjust="spacingAndGlyphs">Regulation of</text>
<text x="213.00" y="43.90" font-size="6.0" font-family="'Liberation Sans', Arial, sans-serif" font-weight="bold" fill="#1a1a1a" stroke="#1a1a1a" stroke-width="0.28" text-anchor="start" textLength="52.30" lengthAdjust="spacingAndGlyphs">biological process</text>
<text x="220.40" y="57.50" font-size="6.0" font-family="'Liberation Sans', Arial, sans-serif" font-weight="bold" fill="#1a1a1a" stroke="#1a1a1a" stroke-width="0.28" text-anchor="start" textLength="35.10" lengthAdjust="spacingAndGlyphs">Multicellular</text>
<text x="209.30" y="61.80" font-size="6.0" font-family="'Liberation Sans', Arial, sans-serif" font-weight="bold" fill="#1a1a1a" stroke="#1a1a1a" stroke-width="0.28" text-anchor="start" textLength="56.00" lengthAdjust="spacingAndGlyphs">organismal process</text>
<text x="211.20" y="78.50" font-size="6.0" font-family="'Liberation Sans', Arial, sans-serif" font-weight="bold" fill="#1a1a1a" stroke="#1a1a1a" stroke-width="0.28" text-anchor="start" textLength="52.30" lengthAdjust="spacingAndGlyphs">Metabolic process</text>
<text x="228.40" y="94.50" font-size="6.0" font-family="'Liberation Sans', Arial, sans-serif" font-weight="bold" fill="#1a1a1a" stroke="#1a1a1a" stroke-width="0.28" text-anchor="start" textLength="34.50" lengthAdjust="spacingAndGlyphs">Localization</text>
<text x="218.50" y="109.60" font-size="6.0" font-family="'Liberation Sans', Arial, sans-serif" font-weight="bold" fill="#1a1a1a" stroke="#1a1a1a" stroke-width="0.28" text-anchor="start" textLength="45.40" lengthAdjust="spacingAndGlyphs">Immune system</text>
<text x="230.90" y="113.80" font-size="6.0" font-family="'Liberation Sans', Arial, sans-serif" font-weight="bold" fill="#1a1a1a" stroke="#1a1a1a" stroke-width="0.28" text-anchor="start" textLength="22.10" lengthAdjust="spacingAndGlyphs">process</text>
<text x="216.70" y="128.30" font-size="6.0" font-family="'Liberation Sans', Arial, sans-serif" font-weight="bold" fill="#1a1a1a" stroke="#1a1a1a" stroke-width="0.28" text-anchor="start" textLength="46.20" lengthAdjust="spacingAndGlyphs">Cellular process</text>
<text x="229.60" y="143.20" font-size="6.0" font-family="'Liberation Sans', Arial, sans-serif" font-weight="bold" fill="#1a1a1a" stroke="#1a1a1a" stroke-width="0.28" text-anchor="start" textLength="35.10" lengthAdjust="spacingAndGlyphs">Response to</text>
<text x="235.20" y="147.30" font-size="6.0" font-family="'Liberation Sans', Arial, sans-serif" font-weight="bold" fill="#1a1a1a" stroke="#1a1a1a" stroke-width="0.28" text-anchor="start" textLength="24.00" lengthAdjust="spacingAndGlyphs">stimulus</text>
<text x="220.80" y="160.50" font-size="6.0" font-family="'Liberation Sans', Arial, sans-serif" font-weight="bold" fill="#1a1a1a" stroke="#1a1a1a" stroke-width="0.28" text-anchor="start" textLength="37.20" lengthAdjust="spacingAndGlyphs">Regulation of</text>
<text x="214.20" y="164.80" font-size="6.0" font-family="'Liberation Sans', Arial, sans-serif" font-weight="bold" fill="#1a1a1a" stroke="#1a1a1a" stroke-width="0.28" text-anchor="start" textLength="51.80" lengthAdjust="spacingAndGlyphs">biological process</text>
<text x="221.60" y="178.10" font-size="6.0" font-family="'Liberation Sans', Arial, sans-serif" font-weight="bold" fill="#1a1a1a" stroke="#1a1a1a" stroke-width="0.28" text-anchor="start" textLength="33.90" lengthAdjust="spacingAndGlyphs">Multicellular</text>
<text x="210.90" y="182.30" font-size="6.0" font-family="'Liberation Sans', Arial, sans-serif" font-weight="bold" fill="#1a1a1a" stroke="#1a1a1a" stroke-width="0.28" text-anchor="start" textLength="55.10" lengthAdjust="spacingAndGlyphs">organismal process</text>
<text x="212.60" y="199.30" font-size="6.0" font-family="'Liberation Sans', Arial, sans-serif" font-weight="bold" fill="#1a1a1a" stroke="#1a1a1a" stroke-width="0.28" text-anchor="start" textLength="51.30" lengthAdjust="spacingAndGlyphs">Metabolic process</text>
<text x="229.60" y="215.30" font-size="6.0" font-family="'Liberation Sans', Arial, sans-serif" font-weight="bold" fill="#1a1a1a" stroke="#1a1a1a" stroke-width="0.28" text-anchor="start" textLength="33.50" lengthAdjust="spacingAndGlyphs">Localization</text>
<text x="220.00" y="230.50" font-size="6.0" font-family="'Liberation Sans', Arial, sans-serif" font-weight="bold" fill="#1a1a1a" stroke="#1a1a1a" stroke-width="0.28" text-anchor="start" textLength="43.90" lengthAdjust="spacingAndGlyphs">Immune system</text>
<text x="231.80" y="234.70" font-size="6.0" font-family="'Liberation Sans', Arial, sans-serif" font-weight="bold" fill="#1a1a1a" stroke="#1a1a1a" stroke-width="0.28" text-anchor="start" textLength="22.20" lengthAdjust="spacingAndGlyphs">process</text>
<text x="217.30" y="248.20" font-size="6.0" font-family="'Liberation Sans', Arial, sans-serif" font-weight="bold" fill="#1a1a1a" stroke="#1a1a1a" stroke-width="0.28" text-anchor="start" textLength="48.00" lengthAdjust="spacingAndGlyphs">Cellular process</text>
<text x="251.40" y="280.90" font-size="6.0" font-family="'Liberation Sans', Arial, sans-serif" font-weight="bold" fill="#1a1a1a" stroke="#1a1a1a" stroke-width="0.28" text-anchor="start" textLength="11.10" lengthAdjust="spacingAndGlyphs">Cell</text>
<text x="239.20" y="295.90" font-size="6.0" font-family="'Liberation Sans', Arial, sans-serif" font-weight="bold" fill="#1a1a1a" stroke="#1a1a1a" stroke-width="0.28" text-anchor="start" textLength="24.20" lengthAdjust="spacingAndGlyphs">Cell part</text>
<text x="235.80" y="312.00" font-size="6.0" font-family="'Liberation Sans', Arial, sans-serif" font-weight="bold" fill="#1a1a1a" stroke="#1a1a1a" stroke-width="0.28" text-anchor="start" textLength="27.90" lengthAdjust="spacingAndGlyphs">Organelle</text>
<text x="228.00" y="324.60" font-size="6.0" font-family="'Liberation Sans', Arial, sans-serif" font-weight="bold" fill="#1a1a1a" stroke="#1a1a1a" stroke-width="0.28" text-anchor="start" textLength="36.20" lengthAdjust="spacingAndGlyphs">Extracellular</text>
<text x="231.00" y="329.00" font-size="6.0" font-family="'Liberation Sans', Arial, sans-serif" font-weight="bold" fill="#1a1a1a" stroke="#1a1a1a" stroke-width="0.28" text-anchor="start" textLength="31.50" lengthAdjust="spacingAndGlyphs">region part</text>
<text x="210.60" y="340.00" font-size="6.0" font-family="'Liberation Sans', Arial, sans-serif" font-weight="bold" fill="#1a1a1a" stroke="#1a1a1a" stroke-width="0.28" text-anchor="start" textLength="53.60" lengthAdjust="spacingAndGlyphs">Protein-containing</text>
<text x="225.90" y="344.50" font-size="6.0" font-family="'Liberation Sans', Arial, sans-serif" font-weight="bold" fill="#1a1a1a" stroke="#1a1a1a" stroke-width="0.28" text-anchor="start" textLength="23.80" lengthAdjust="spacingAndGlyphs">complex</text>
<text x="204.60" y="354.80" font-size="6.0" font-family="'Liberation Sans', Arial, sans-serif" font-weight="bold" fill="#1a1a1a" stroke="#1a1a1a" stroke-width="0.28" text-anchor="start" textLength="61.30" lengthAdjust="spacingAndGlyphs">Membrane-enclossed</text>
<text x="229.60" y="359.00" font-size="6.0" font-family="'Liberation Sans', Arial, sans-serif" font-weight="bold" fill="#1a1a1a" stroke="#1a1a1a" stroke-width="0.28" text-anchor="start" textLength="13.30" lengthAdjust="spacingAndGlyphs">lume</text>
<text x="251.80" y="378.60" font-size="6.0" font-family="'Liberation Sans', Arial, sans-serif" font-weight="bold" fill="#1a1a1a" stroke="#1a1a1a" stroke-width="0.28" text-anchor="start" textLength="10.90" lengthAdjust="spacingAndGlyphs">Cell</text>
<text x="239.90" y="393.00" font-size="6.0" font-family="'Liberation Sans', Arial, sans-serif" font-weight="bold" fill="#1a1a1a" stroke="#1a1a1a" stroke-width="0.28" text-anchor="start" textLength="23.50" lengthAdjust="spacingAndGlyphs">Cell part</text>
<text x="236.40" y="410.10" font-size="6.0" font-family="'Liberation Sans', Arial, sans-serif" font-weight="bold" fill="#1a1a1a" stroke="#1a1a1a" stroke-width="0.28" text-anchor="start" textLength="27.80" lengthAdjust="spacingAndGlyphs">Organelle</text>
<text x="227.60" y="423.00" font-size="6.0" font-family="'Liberation Sans', Arial, sans-serif" font-weight="bold" fill="#1a1a1a" stroke="#1a1a1a" stroke-width="0.28" text-anchor="start" textLength="36.10" lengthAdjust="spacingAndGlyphs">Extracellular</text>
<text x="230.70" y="427.50" font-size="6.0" font-family="'Liberation Sans', Arial, sans-serif" font-weight="bold" fill="#1a1a1a" stroke="#1a1a1a" stroke-width="0.28" text-anchor="start" textLength="32.30" lengthAdjust="spacingAndGlyphs">region part</text>
<text x="210.90" y="437.50" font-size="6.0" font-family="'Liberation Sans', Arial, sans-serif" font-weight="bold" fill="#1a1a1a" stroke="#1a1a1a" stroke-width="0.28" text-anchor="start" textLength="53.80" lengthAdjust="spacingAndGlyphs">Protein-containing</text>
<text x="226.70" y="442.00" font-size="6.0" font-family="'Liberation Sans', Arial, sans-serif" font-weight="bold" fill="#1a1a1a" stroke="#1a1a1a" stroke-width="0.28" text-anchor="start" textLength="23.90" lengthAdjust="spacingAndGlyphs">complex</text>
<text x="207.10" y="452.40" font-size="6.0" font-family="'Liberation Sans', Arial, sans-serif" font-weight="bold" fill="#1a1a1a" stroke="#1a1a1a" stroke-width="0.28" text-anchor="start" textLength="57.90" lengthAdjust="spacingAndGlyphs">Membrane-enclosed</text>
<text x="230.10" y="456.50" font-size="6.0" font-family="'Liberation Sans', Arial, sans-serif" font-weight="bold" fill="#1a1a1a" stroke="#1a1a1a" stroke-width="0.28" text-anchor="start" textLength="13.70" lengthAdjust="spacingAndGlyphs">lume</text>
<text x="240.40" y="482.50" font-size="6.5" font-family="'Liberation Sans', Arial, sans-serif" font-weight="bold" fill="#1a1a1a" stroke="#1a1a1a" stroke-width="0.36" text-anchor="start" textLength="24.30" lengthAdjust="spacingAndGlyphs">Binding</text>
<text x="237.00" y="495.50" font-size="6.5" font-family="'Liberation Sans', Arial, sans-serif" font-weight="bold" fill="#1a1a1a" stroke="#1a1a1a" stroke-width="0.36" text-anchor="start" textLength="27.20" lengthAdjust="spacingAndGlyphs">Catalytic</text>
<text x="239.20" y="500.50" font-size="6.5" font-family="'Liberation Sans', Arial, sans-serif" font-weight="bold" fill="#1a1a1a" stroke="#1a1a1a" stroke-width="0.36" text-anchor="start" textLength="22.50" lengthAdjust="spacingAndGlyphs">activity</text>
<text x="240.40" y="514.50" font-size="6.5" font-family="'Liberation Sans', Arial, sans-serif" font-weight="bold" fill="#1a1a1a" stroke="#1a1a1a" stroke-width="0.36" text-anchor="start" textLength="24.30" lengthAdjust="spacingAndGlyphs">Binding</text>
<text x="237.00" y="527.30" font-size="6.5" font-family="'Liberation Sans', Arial, sans-serif" font-weight="bold" fill="#1a1a1a" stroke="#1a1a1a" stroke-width="0.36" text-anchor="start" textLength="27.20" lengthAdjust="spacingAndGlyphs">Catalytic</text>
<text x="239.20" y="532.30" font-size="6.5" font-family="'Liberation Sans', Arial, sans-serif" font-weight="bold" fill="#1a1a1a" stroke="#1a1a1a" stroke-width="0.36" text-anchor="start" textLength="22.50" lengthAdjust="spacingAndGlyphs">activity</text>
<text transform="translate(203.00,87.00) rotate(-90)" x="0" y="0" font-size="6.4" font-family="'Liberation Sans', Arial, sans-serif" font-weight="bold" fill="#1a1a1a" stroke="#1a1a1a" stroke-width="0.28" textLength="26.20" lengthAdjust="spacingAndGlyphs">CG − EG1</text>
<text transform="translate(202.20,202.40) rotate(-90)" x="0" y="0" font-size="6.0" font-family="'Liberation Sans', Arial, sans-serif" font-weight="bold" fill="#1a1a1a" stroke="#1a1a1a" stroke-width="0.28" textLength="26.20" lengthAdjust="spacingAndGlyphs">CG − EG4</text>
<text transform="translate(200.20,327.40) rotate(-90)" x="0" y="0" font-size="5.4" font-family="'Liberation Sans', Arial, sans-serif" font-weight="bold" fill="#1a1a1a" stroke="#1a1a1a" stroke-width="0.28" textLength="25.50" lengthAdjust="spacingAndGlyphs">CG − EG1</text>
<text transform="translate(200.20,417.40) rotate(-90)" x="0" y="0" font-size="5.5" font-family="'Liberation Sans', Arial, sans-serif" font-weight="bold" fill="#1a1a1a" stroke="#1a1a1a" stroke-width="0.28" textLength="26.20" lengthAdjust="spacingAndGlyphs">CG − EG4</text>
<text transform="translate(215.70,500.30) rotate(-90)" x="0" y="0" font-size="6.6" font-family="'Liberation Sans', Arial, sans-serif" font-weight="bold" fill="#1a1a1a" stroke="#1a1a1a" stroke-width="0.4" textLength="26.50" lengthAdjust="spacingAndGlyphs">CG−EG1</text>
<text transform="translate(215.70,536.20) rotate(-90)" x="0" y="0" font-size="6.6" font-family="'Liberation Sans', Arial, sans-serif" font-weight="bold" fill="#1a1a1a" stroke="#1a1a1a" stroke-width="0.4" textLength="29.30" lengthAdjust="spacingAndGlyphs">CG−EG4</text>
<rect x="266.50" y="17.00" width="1.82" height="66.86" fill="#12e23e"/>
<rect x="266.50" y="83.86" width="1.82" height="16.71" fill="#c4f0bf"/>
<rect x="266.50" y="100.57" width="1.82" height="16.71" fill="#12e23e"/>
<rect x="266.50" y="117.29" width="1.82" height="16.71" fill="#c4f0bf"/>
<rect x="268.30" y="17.00" width="2.52" height="33.43" fill="#efecee"/>
<rect x="268.30" y="50.43" width="2.52" height="83.57" fill="#f9f8e6"/>
<rect x="270.80" y="17.00" width="5.42" height="66.86" fill="#f9f8e6"/>
<rect x="270.80" y="83.86" width="5.42" height="16.71" fill="#c4f0bf"/>
<rect x="270.80" y="100.57" width="5.42" height="33.43" fill="#f9f8e6"/>
<rect x="276.20" y="17.00" width="3.52" height="33.43" fill="#f9f8e6"/>
<rect x="276.20" y="50.43" width="3.52" height="16.71" fill="#efecee"/>
<rect x="276.20" y="67.14" width="3.52" height="66.86" fill="#f9f8e6"/>
<rect x="279.70" y="17.00" width="2.12" height="33.43" fill="#12e23e"/>
<rect x="279.70" y="50.43" width="2.12" height="83.57" fill="#f9f8e6"/>
<rect x="281.80" y="17.00" width="1.72" height="33.43" fill="#d6d3ee"/>
<rect x="281.80" y="50.43" width="1.72" height="83.57" fill="#f9f8e6"/>
<rect x="283.50" y="17.00" width="1.82" height="117.00" fill="#d6d3ee"/>
<rect x="285.30" y="17.00" width="3.72" height="117.00" fill="#12e23e"/>
<rect x="289.00" y="17.00" width="7.02" height="117.00" fill="#b2b2e8"/>
<rect x="296.00" y="17.00" width="2.02" height="50.14" fill="#c4f0bf"/>
<rect x="296.00" y="67.14" width="2.02" height="66.86" fill="#f9f8e6"/>
<rect x="298.00" y="17.00" width="2.02" height="117.00" fill="#f9f8e6"/>
<rect x="300.00" y="17.00" width="2.02" height="117.00" fill="#12e23e"/>
<rect x="302.00" y="17.00" width="4.62" height="33.43" fill="#efecee"/>
<rect x="302.00" y="50.43" width="4.62" height="66.86" fill="#f9f8e6"/>
<rect x="302.00" y="117.29" width="4.62" height="16.71" fill="#efecee"/>
<rect x="306.60" y="17.00" width="2.62" height="16.71" fill="#f9f8e6"/>
<rect x="306.60" y="33.71" width="2.62" height="50.14" fill="#12e23e"/>
<rect x="306.60" y="83.86" width="2.62" height="33.43" fill="#f9f8e6"/>
<rect x="306.60" y="117.29" width="2.62" height="16.71" fill="#12e23e"/>
<rect x="309.20" y="17.00" width="3.22" height="117.00" fill="#c4f0bf"/>
<rect x="312.40" y="17.00" width="3.22" height="117.00" fill="#b2b2e8"/>
<rect x="315.60" y="17.00" width="1.62" height="117.00" fill="#f9f8e6"/>
<rect x="317.20" y="17.00" width="5.02" height="117.00" fill="#12e23e"/>
<rect x="322.20" y="17.00" width="2.22" height="50.14" fill="#d6d3ee"/>
<rect x="322.20" y="67.14" width="2.22" height="16.71" fill="#f9f8e6"/>
<rect x="322.20" y="83.86" width="2.22" height="50.14" fill="#d6d3ee"/>
<rect x="324.40" y="17.00" width="1.62" height="33.43" fill="#d6d3ee"/>
<rect x="324.40" y="50.43" width="1.62" height="33.43" fill="#f9f8e6"/>
<rect x="324.40" y="83.86" width="1.62" height="50.14" fill="#d6d3ee"/>
<rect x="326.00" y="17.00" width="2.02" height="33.43" fill="#12e23e"/>
<rect x="326.00" y="50.43" width="2.02" height="16.71" fill="#f9f8e6"/>
<rect x="326.00" y="67.14" width="2.02" height="16.71" fill="#12e23e"/>
<rect x="326.00" y="83.86" width="2.02" height="16.71" fill="#f9f8e6"/>
<rect x="326.00" y="100.57" width="2.02" height="33.43" fill="#12e23e"/>
<rect x="328.00" y="17.00" width="2.02" height="66.86" fill="#c4f0bf"/>
<rect x="328.00" y="83.86" width="2.02" height="16.71" fill="#f9f8e6"/>
<rect x="328.00" y="100.57" width="2.02" height="33.43" fill="#c4f0bf"/>
<rect x="330.00" y="17.00" width="3.32" height="66.86" fill="#12e23e"/>
<rect x="330.00" y="83.86" width="3.32" height="16.71" fill="#f9f8e6"/>
<rect x="330.00" y="100.57" width="3.32" height="33.43" fill="#12e23e"/>
<rect x="333.30" y="17.00" width="2.12" height="117.00" fill="#f9f8e6"/>
<rect x="335.40" y="17.00" width="2.12" height="83.57" fill="#d6d3ee"/>
<rect x="335.40" y="100.57" width="2.12" height="16.71" fill="#f9f8e6"/>
<rect x="335.40" y="117.29" width="2.12" height="16.71" fill="#d6d3ee"/>
<rect x="337.50" y="17.00" width="5.32" height="83.57" fill="#c4f0bf"/>
<rect x="337.50" y="100.57" width="5.32" height="16.71" fill="#f9f8e6"/>
<rect x="337.50" y="117.29" width="5.32" height="16.71" fill="#c4f0bf"/>
<rect x="342.80" y="17.00" width="2.12" height="16.71" fill="#12e23e"/>
<rect x="342.80" y="33.71" width="2.12" height="16.71" fill="#f9f8e6"/>
<rect x="342.80" y="50.43" width="2.12" height="50.14" fill="#12e23e"/>
<rect x="342.80" y="100.57" width="2.12" height="16.71" fill="#f9f8e6"/>
<rect x="342.80" y="117.29" width="2.12" height="16.71" fill="#12e23e"/>
<rect x="344.90" y="17.00" width="1.62" height="117.00" fill="#f9f8e6"/>
<rect x="346.50" y="17.00" width="1.52" height="83.57" fill="#b2b2e8"/>
<rect x="346.50" y="100.57" width="1.52" height="16.71" fill="#f9f8e6"/>
<rect x="346.50" y="117.29" width="1.52" height="16.71" fill="#b2b2e8"/>
<rect x="348.00" y="17.00" width="2.72" height="66.86" fill="#efecee"/>
<rect x="348.00" y="83.86" width="2.72" height="33.43" fill="#f9f8e6"/>
<rect x="348.00" y="117.29" width="2.72" height="16.71" fill="#efecee"/>
<rect x="350.70" y="17.00" width="3.22" height="66.86" fill="#d6d3ee"/>
<rect x="350.70" y="83.86" width="3.22" height="33.43" fill="#f9f8e6"/>
<rect x="350.70" y="117.29" width="3.22" height="16.71" fill="#d6d3ee"/>
<rect x="353.90" y="17.00" width="3.72" height="66.86" fill="#5b5bec"/>
<rect x="353.90" y="83.86" width="3.72" height="33.43" fill="#f9f8e6"/>
<rect x="353.90" y="117.29" width="3.72" height="16.71" fill="#5b5bec"/>
<rect x="357.60" y="17.00" width="1.52" height="66.86" fill="#efecee"/>
<rect x="357.60" y="83.86" width="1.52" height="33.43" fill="#f9f8e6"/>
<rect x="357.60" y="117.29" width="1.52" height="16.71" fill="#efecee"/>
<rect x="359.10" y="17.00" width="2.12" height="16.71" fill="#f9f8e6"/>
<rect x="359.10" y="33.71" width="2.12" height="50.14" fill="#b2b2e8"/>
<rect x="359.10" y="83.86" width="2.12" height="33.43" fill="#f9f8e6"/>
<rect x="359.10" y="117.29" width="2.12" height="16.71" fill="#b2b2e8"/>
<rect x="361.20" y="17.00" width="1.62" height="117.00" fill="#f9f8e6"/>
<rect x="362.80" y="17.00" width="2.22" height="16.71" fill="#12e23e"/>
<rect x="362.80" y="33.71" width="2.22" height="16.71" fill="#f9f8e6"/>
<rect x="362.80" y="50.43" width="2.22" height="33.43" fill="#12e23e"/>
<rect x="362.80" y="83.86" width="2.22" height="33.43" fill="#f9f8e6"/>
<rect x="362.80" y="117.29" width="2.22" height="16.71" fill="#12e23e"/>
<rect x="365.00" y="17.00" width="5.72" height="33.43" fill="#f9f8e6"/>
<rect x="365.00" y="50.43" width="5.72" height="33.43" fill="#12e23e"/>
<rect x="365.00" y="83.86" width="5.72" height="33.43" fill="#f9f8e6"/>
<rect x="365.00" y="117.29" width="5.72" height="16.71" fill="#12e23e"/>
<rect x="370.70" y="17.00" width="0.92" height="33.43" fill="#f9f8e6"/>
<rect x="370.70" y="50.43" width="0.92" height="33.43" fill="#c4f0bf"/>
<rect x="370.70" y="83.86" width="0.92" height="33.43" fill="#f9f8e6"/>
<rect x="370.70" y="117.29" width="0.92" height="16.71" fill="#c4f0bf"/>
<rect x="371.60" y="17.00" width="2.12" height="117.00" fill="#f9f8e6"/>
<rect x="373.70" y="17.00" width="2.12" height="33.43" fill="#12e23e"/>
<rect x="373.70" y="50.43" width="2.12" height="16.71" fill="#f9f8e6"/>
<rect x="373.70" y="67.14" width="2.12" height="16.71" fill="#12e23e"/>
<rect x="373.70" y="83.86" width="2.12" height="33.43" fill="#f9f8e6"/>
<rect x="373.70" y="117.29" width="2.12" height="16.71" fill="#12e23e"/>
<rect x="375.80" y="17.00" width="2.12" height="16.71" fill="#f9f8e6"/>
<rect x="375.80" y="33.71" width="2.12" height="16.71" fill="#12e23e"/>
<rect x="375.80" y="50.43" width="2.12" height="16.71" fill="#f9f8e6"/>
<rect x="375.80" y="67.14" width="2.12" height="16.71" fill="#12e23e"/>
<rect x="375.80" y="83.86" width="2.12" height="33.43" fill="#f9f8e6"/>
<rect x="375.80" y="117.29" width="2.12" height="16.71" fill="#12e23e"/>
<rect x="377.90" y="17.00" width="2.62" height="33.43" fill="#c4f0bf"/>
<rect x="377.90" y="50.43" width="2.62" height="66.86" fill="#f9f8e6"/>
<rect x="377.90" y="117.29" width="2.62" height="16.71" fill="#c4f0bf"/>
<rect x="380.50" y="17.00" width="2.72" height="50.14" fill="#12e23e"/>
<rect x="380.50" y="67.14" width="2.72" height="50.14" fill="#f9f8e6"/>
<rect x="380.50" y="117.29" width="2.72" height="16.71" fill="#12e23e"/>
<rect x="383.20" y="17.00" width="1.62" height="16.71" fill="#f9f8e6"/>
<rect x="383.20" y="33.71" width="1.62" height="16.71" fill="#d6d3ee"/>
<rect x="383.20" y="50.43" width="1.62" height="16.71" fill="#b2b2e8"/>
<rect x="383.20" y="67.14" width="1.62" height="50.14" fill="#f9f8e6"/>
<rect x="383.20" y="117.29" width="1.62" height="16.71" fill="#b2b2e8"/>
<rect x="384.80" y="17.00" width="2.12" height="16.71" fill="#12e23e"/>
<rect x="384.80" y="33.71" width="2.12" height="16.71" fill="#f9f8e6"/>
<rect x="384.80" y="50.43" width="2.12" height="16.71" fill="#12e23e"/>
<rect x="384.80" y="67.14" width="2.12" height="50.14" fill="#f9f8e6"/>
<rect x="384.80" y="117.29" width="2.12" height="16.71" fill="#12e23e"/>
<rect x="386.90" y="17.00" width="2.12" height="33.43" fill="#f9f8e6"/>
<rect x="386.90" y="50.43" width="2.12" height="16.71" fill="#b2b2e8"/>
<rect x="386.90" y="67.14" width="2.12" height="50.14" fill="#f9f8e6"/>
<rect x="386.90" y="117.29" width="2.12" height="16.71" fill="#b2b2e8"/>
<rect x="389.00" y="17.00" width="6.82" height="33.43" fill="#f9f8e6"/>
<rect x="389.00" y="50.43" width="6.82" height="16.71" fill="#12e23e"/>
<rect x="389.00" y="67.14" width="6.82" height="50.14" fill="#f9f8e6"/>
<rect x="389.00" y="117.29" width="6.82" height="16.71" fill="#12e23e"/>
<rect x="395.80" y="17.00" width="2.22" height="33.43" fill="#12e23e"/>
<rect x="395.80" y="50.43" width="2.22" height="66.86" fill="#f9f8e6"/>
<rect x="395.80" y="117.29" width="2.22" height="16.71" fill="#12e23e"/>
<rect x="398.00" y="17.00" width="2.02" height="117.00" fill="#f9f8e6"/>
<rect x="400.00" y="17.00" width="1.62" height="117.00" fill="#b2b2e8"/>
<rect x="401.60" y="17.00" width="2.22" height="50.14" fill="#f9f8e6"/>
<rect x="401.60" y="67.14" width="2.22" height="16.71" fill="#c4f0bf"/>
<rect x="401.60" y="83.86" width="2.22" height="50.14" fill="#f9f8e6"/>
<rect x="403.80" y="17.00" width="2.12" height="33.43" fill="#12e23e"/>
<rect x="403.80" y="50.43" width="2.12" height="33.43" fill="#f9f8e6"/>
<rect x="403.80" y="83.86" width="2.12" height="50.14" fill="#12e23e"/>
<rect x="405.90" y="17.00" width="1.52" height="50.14" fill="#f9f8e6"/>
<rect x="405.90" y="67.14" width="1.52" height="16.71" fill="#c4f0bf"/>
<rect x="405.90" y="83.86" width="1.52" height="50.14" fill="#f9f8e6"/>
<rect x="407.40" y="17.00" width="1.62" height="50.14" fill="#12e23e"/>
<rect x="407.40" y="67.14" width="1.62" height="33.43" fill="#f9f8e6"/>
<rect x="407.40" y="100.57" width="1.62" height="33.43" fill="#12e23e"/>
<rect x="409.00" y="17.00" width="2.12" height="117.00" fill="#f9f8e6"/>
<rect x="411.10" y="17.00" width="1.62" height="33.43" fill="#b2b2e8"/>
<rect x="411.10" y="50.43" width="1.62" height="66.86" fill="#f9f8e6"/>
<rect x="411.10" y="117.29" width="1.62" height="16.71" fill="#b2b2e8"/>
<rect x="412.70" y="17.00" width="2.32" height="16.71" fill="#f9f8e6"/>
<rect x="412.70" y="33.71" width="2.32" height="16.71" fill="#12e23e"/>
<rect x="412.70" y="50.43" width="2.32" height="16.71" fill="#f9f8e6"/>
<rect x="412.70" y="67.14" width="2.32" height="16.71" fill="#c4f0bf"/>
<rect x="412.70" y="83.86" width="2.32" height="33.43" fill="#f9f8e6"/>
<rect x="412.70" y="117.29" width="2.32" height="16.71" fill="#12e23e"/>
<rect x="415.00" y="17.00" width="1.62" height="33.43" fill="#12e23e"/>
<rect x="415.00" y="50.43" width="1.62" height="16.71" fill="#f9f8e6"/>
<rect x="415.00" y="67.14" width="1.62" height="66.86" fill="#12e23e"/>
<rect x="416.60" y="17.00" width="3.02" height="33.43" fill="#c4f0bf"/>
<rect x="416.60" y="50.43" width="3.02" height="16.71" fill="#f9f8e6"/>
<rect x="416.60" y="67.14" width="3.02" height="66.86" fill="#c4f0bf"/>
<rect x="419.60" y="17.00" width="2.62" height="33.43" fill="#12e23e"/>
<rect x="419.60" y="50.43" width="2.62" height="16.71" fill="#f9f8e6"/>
<rect x="419.60" y="67.14" width="2.62" height="16.71" fill="#12e23e"/>
<rect x="419.60" y="83.86" width="2.62" height="16.71" fill="#c4f0bf"/>
<rect x="419.60" y="100.57" width="2.62" height="33.43" fill="#12e23e"/>
<rect x="422.20" y="17.00" width="1.82" height="117.00" fill="#f9f8e6"/>
<rect x="424.00" y="17.00" width="2.02" height="33.43" fill="#d6d3ee"/>
<rect x="424.00" y="50.43" width="2.02" height="83.57" fill="#f9f8e6"/>
<rect x="426.00" y="17.00" width="4.02" height="33.43" fill="#6ee87a"/>
<rect x="426.00" y="50.43" width="4.02" height="16.71" fill="#12e23e"/>
<rect x="426.00" y="67.14" width="4.02" height="33.43" fill="#f9f8e6"/>
<rect x="426.00" y="100.57" width="4.02" height="33.43" fill="#6ee87a"/>
<rect x="430.00" y="17.00" width="2.82" height="33.43" fill="#c4f0bf"/>
<rect x="430.00" y="50.43" width="2.82" height="50.14" fill="#f9f8e6"/>
<rect x="430.00" y="100.57" width="2.82" height="33.43" fill="#c4f0bf"/>
<rect x="432.80" y="17.00" width="2.22" height="83.57" fill="#12e23e"/>
<rect x="432.80" y="100.57" width="2.22" height="16.71" fill="#f9f8e6"/>
<rect x="432.80" y="117.29" width="2.22" height="16.71" fill="#12e23e"/>
<rect x="435.00" y="17.00" width="1.82" height="33.43" fill="#d6d3ee"/>
<rect x="435.00" y="50.43" width="1.82" height="33.43" fill="#f9f8e6"/>
<rect x="435.00" y="83.86" width="1.82" height="16.71" fill="#d6d3ee"/>
<rect x="435.00" y="100.57" width="1.82" height="16.71" fill="#f9f8e6"/>
<rect x="435.00" y="117.29" width="1.82" height="16.71" fill="#d6d3ee"/>
<rect x="436.80" y="17.00" width="3.42" height="66.86" fill="#f9f8e6"/>
<rect x="436.80" y="83.86" width="3.42" height="16.71" fill="#c4f0bf"/>
<rect x="436.80" y="100.57" width="3.42" height="33.43" fill="#f9f8e6"/>
<rect x="440.20" y="17.00" width="2.82" height="66.86" fill="#12e23e"/>
<rect x="440.20" y="83.86" width="2.82" height="33.43" fill="#f9f8e6"/>
<rect x="440.20" y="117.29" width="2.82" height="16.71" fill="#12e23e"/>
<rect x="443.00" y="17.00" width="4.62" height="33.43" fill="#f9f8e6"/>
<rect x="443.00" y="50.43" width="4.62" height="33.43" fill="#c4f0bf"/>
<rect x="443.00" y="83.86" width="4.62" height="33.43" fill="#f9f8e6"/>
<rect x="443.00" y="117.29" width="4.62" height="16.71" fill="#c4f0bf"/>
<rect x="447.60" y="17.00" width="2.22" height="16.71" fill="#f9f8e6"/>
<rect x="447.60" y="33.71" width="2.22" height="16.71" fill="#12e23e"/>
<rect x="447.60" y="50.43" width="2.22" height="16.71" fill="#f9f8e6"/>
<rect x="447.60" y="67.14" width="2.22" height="16.71" fill="#12e23e"/>
<rect x="447.60" y="83.86" width="2.22" height="33.43" fill="#f9f8e6"/>
<rect x="447.60" y="117.29" width="2.22" height="16.71" fill="#12e23e"/>
<rect x="449.80" y="17.00" width="2.92" height="16.71" fill="#f9f8e6"/>
<rect x="449.80" y="33.71" width="2.92" height="16.71" fill="#c4f0bf"/>
<rect x="449.80" y="50.43" width="2.92" height="83.57" fill="#f9f8e6"/>
<rect x="452.70" y="17.00" width="2.82" height="16.71" fill="#f9f8e6"/>
<rect x="452.70" y="33.71" width="2.82" height="16.71" fill="#d6d3ee"/>
<rect x="452.70" y="50.43" width="2.82" height="16.71" fill="#f9f8e6"/>
<rect x="452.70" y="67.14" width="2.82" height="16.71" fill="#d6d3ee"/>
<rect x="452.70" y="83.86" width="2.82" height="33.43" fill="#f9f8e6"/>
<rect x="452.70" y="117.29" width="2.82" height="16.71" fill="#d6d3ee"/>
<rect x="455.50" y="17.00" width="1.72" height="117.00" fill="#f9f8e6"/>
<rect x="457.20" y="17.00" width="2.32" height="16.71" fill="#12e23e"/>
<rect x="457.20" y="33.71" width="2.32" height="33.43" fill="#f9f8e6"/>
<rect x="457.20" y="67.14" width="2.32" height="16.71" fill="#12e23e"/>
<rect x="457.20" y="83.86" width="2.32" height="33.43" fill="#f9f8e6"/>
<rect x="457.20" y="117.29" width="2.32" height="16.71" fill="#12e23e"/>
<rect x="459.50" y="17.00" width="2.82" height="16.71" fill="#c4f0bf"/>
<rect x="459.50" y="33.71" width="2.82" height="33.43" fill="#f9f8e6"/>
<rect x="459.50" y="67.14" width="2.82" height="16.71" fill="#c4f0bf"/>
<rect x="459.50" y="83.86" width="2.82" height="33.43" fill="#f9f8e6"/>
<rect x="459.50" y="117.29" width="2.82" height="16.71" fill="#c4f0bf"/>
<rect x="462.30" y="17.00" width="2.32" height="117.00" fill="#f9f8e6"/>
<rect x="464.60" y="17.00" width="2.92" height="33.43" fill="#d6d3ee"/>
<rect x="464.60" y="50.43" width="2.92" height="16.71" fill="#b2b2e8"/>
<rect x="464.60" y="67.14" width="2.92" height="50.14" fill="#f9f8e6"/>
<rect x="464.60" y="117.29" width="2.92" height="16.71" fill="#d6d3ee"/>
<rect x="467.50" y="17.00" width="4.52" height="33.43" fill="#12e23e"/>
<rect x="467.50" y="50.43" width="4.52" height="66.86" fill="#f9f8e6"/>
<rect x="467.50" y="117.29" width="4.52" height="16.71" fill="#12e23e"/>
<rect x="472.00" y="17.00" width="1.72" height="33.43" fill="#c4f0bf"/>
<rect x="472.00" y="50.43" width="1.72" height="66.86" fill="#f9f8e6"/>
<rect x="472.00" y="117.29" width="1.72" height="16.71" fill="#c4f0bf"/>
<rect x="473.70" y="17.00" width="2.32" height="33.43" fill="#b2b2e8"/>
<rect x="473.70" y="50.43" width="2.32" height="66.86" fill="#f9f8e6"/>
<rect x="473.70" y="117.29" width="2.32" height="16.71" fill="#b2b2e8"/>
<rect x="476.00" y="17.00" width="1.02" height="117.00" fill="#f9f8e6"/>
<rect x="477.00" y="17.00" width="4.22" height="33.43" fill="#c4f0bf"/>
<rect x="477.00" y="50.43" width="4.22" height="66.86" fill="#f9f8e6"/>
<rect x="477.00" y="117.29" width="4.22" height="16.71" fill="#12e23e"/>
<path d="M268.62 17.0V134.0M270.74 17.0V134.0M272.86 17.0V134.0M274.98 17.0V134.0M277.10 17.0V134.0M279.22 17.0V134.0M281.34 17.0V134.0M283.46 17.0V134.0M285.58 17.0V134.0M287.70 17.0V134.0M289.82 17.0V134.0M291.94 17.0V134.0M294.06 17.0V134.0M296.18 17.0V134.0M298.30 17.0V134.0M300.42 17.0V134.0M302.54 17.0V134.0M304.66 17.0V134.0M306.78 17.0V134.0M308.90 17.0V134.0M311.02 17.0V134.0M313.14 17.0V134.0M315.26 17.0V134.0M317.38 17.0V134.0M319.50 17.0V134.0M321.62 17.0V134.0M323.74 17.0V134.0M325.86 17.0V134.0M327.98 17.0V134.0M330.10 17.0V134.0M332.22 17.0V134.0M334.34 17.0V134.0M336.46 17.0V134.0M338.58 17.0V134.0M340.70 17.0V134.0M342.82 17.0V134.0M344.94 17.0V134.0M347.06 17.0V134.0M349.18 17.0V134.0M351.30 17.0V134.0M353.42 17.0V134.0M355.54 17.0V134.0M357.66 17.0V134.0M359.78 17.0V134.0M361.90 17.0V134.0M364.02 17.0V134.0M366.14 17.0V134.0M368.26 17.0V134.0M370.38 17.0V134.0M372.50 17.0V134.0M374.62 17.0V134.0M376.74 17.0V134.0M378.86 17.0V134.0M380.98 17.0V134.0M383.10 17.0V134.0M385.22 17.0V134.0M387.34 17.0V134.0M389.46 17.0V134.0M391.58 17.0V134.0M393.70 17.0V134.0M395.82 17.0V134.0M397.94 17.0V134.0M400.06 17.0V134.0M402.18 17.0V134.0M404.30 17.0V134.0M406.42 17.0V134.0M408.54 17.0V134.0M410.66 17.0V134.0M412.78 17.0V134.0M414.90 17.0V134.0M417.02 17.0V134.0M419.14 17.0V134.0M421.26 17.0V134.0M423.38 17.0V134.0M425.50 17.0V134.0M427.62 17.0V134.0M429.74 17.0V134.0M431.86 17.0V134.0M433.98 17.0V134.0M436.10 17.0V134.0M438.22 17.0V134.0M440.34 17.0V134.0M442.46 17.0V134.0M444.58 17.0V134.0M446.70 17.0V134.0M448.82 17.0V134.0M450.94 17.0V134.0M453.06 17.0V134.0M455.18 17.0V134.0M457.30 17.0V134.0M459.42 17.0V134.0M461.54 17.0V134.0M463.66 17.0V134.0M465.78 17.0V134.0M467.90 17.0V134.0M470.02 17.0V134.0M472.14 17.0V134.0M474.26 17.0V134.0M476.38 17.0V134.0M478.50 17.0V134.0M480.62 17.0V134.0" stroke="#9a9a90" stroke-width="0.35" opacity="0.22" fill="none"/>
<path d="M266.5 33.71H481.2M266.5 50.43H481.2M266.5 67.14H481.2M266.5 83.86H481.2M266.5 100.57H481.2M266.5 117.29H481.2" stroke="#9a9a90" stroke-width="0.35" opacity="0.22" fill="none"/>
<rect x="266.50" y="17.00" width="214.70" height="117.00" fill="none" stroke="#222" stroke-width="1.0"/>
<rect x="266.50" y="137.50" width="1.62" height="117.70" fill="#c0eeb8"/>
<rect x="268.10" y="137.50" width="3.32" height="117.70" fill="#5fe07f"/>
<rect x="271.40" y="137.50" width="1.62" height="117.70" fill="#c0eeb8"/>
<rect x="273.00" y="137.50" width="2.12" height="117.70" fill="#5fe07f"/>
<rect x="275.10" y="137.50" width="5.12" height="117.70" fill="#d9f0cd"/>
<rect x="280.20" y="137.50" width="3.12" height="117.70" fill="#1edf4c"/>
<rect x="283.30" y="137.50" width="1.42" height="117.70" fill="#c0eeb8"/>
<rect x="284.70" y="137.50" width="1.72" height="117.70" fill="#1edf4c"/>
<rect x="286.40" y="137.50" width="2.12" height="33.63" fill="#c0eeb8"/>
<rect x="286.40" y="171.13" width="2.12" height="16.81" fill="#eeeee0"/>
<rect x="286.40" y="187.94" width="2.12" height="67.26" fill="#d9f0cd"/>
<rect x="288.50" y="137.50" width="6.52" height="33.63" fill="#d9f0cd"/>
<rect x="288.50" y="171.13" width="6.52" height="16.81" fill="#eeeee0"/>
<rect x="288.50" y="187.94" width="6.52" height="67.26" fill="#d9f0cd"/>
<rect x="295.00" y="137.50" width="1.02" height="117.70" fill="#d9f0cd"/>
<rect x="296.00" y="137.50" width="4.32" height="33.63" fill="#5fe07f"/>
<rect x="296.00" y="171.13" width="4.32" height="16.81" fill="#d9f0cd"/>
<rect x="296.00" y="187.94" width="4.32" height="16.81" fill="#eeeee0"/>
<rect x="296.00" y="204.76" width="4.32" height="50.44" fill="#d9f0cd"/>
<rect x="300.30" y="137.50" width="1.72" height="50.44" fill="#d9f0cd"/>
<rect x="300.30" y="187.94" width="1.72" height="16.81" fill="#eeeee0"/>
<rect x="300.30" y="204.76" width="1.72" height="50.44" fill="#d9f0cd"/>
<rect x="302.00" y="137.50" width="4.82" height="67.26" fill="#d9f0cd"/>
<rect x="302.00" y="204.76" width="4.82" height="16.81" fill="#eeeee0"/>
<rect x="302.00" y="221.57" width="4.82" height="33.63" fill="#d9f0cd"/>
<rect x="306.80" y="137.50" width="2.42" height="67.26" fill="#1edf4c"/>
<rect x="306.80" y="204.76" width="2.42" height="16.81" fill="#eeeee0"/>
<rect x="306.80" y="221.57" width="2.42" height="33.63" fill="#1edf4c"/>
<rect x="309.20" y="137.50" width="2.42" height="67.26" fill="#1edf4c"/>
<rect x="309.20" y="204.76" width="2.42" height="16.81" fill="#eeeee0"/>
<rect x="309.20" y="221.57" width="2.42" height="33.63" fill="#1edf4c"/>
<rect x="311.60" y="137.50" width="1.62" height="33.63" fill="#c0eeb8"/>
<rect x="311.60" y="171.13" width="1.62" height="16.81" fill="#5fe07f"/>
<rect x="311.60" y="187.94" width="1.62" height="33.63" fill="#eeeee0"/>
<rect x="311.60" y="221.57" width="1.62" height="16.81" fill="#c0eeb8"/>
<rect x="311.60" y="238.39" width="1.62" height="16.81" fill="#d9f0cd"/>
<rect x="313.20" y="137.50" width="2.22" height="33.63" fill="#5fe07f"/>
<rect x="313.20" y="171.13" width="2.22" height="16.81" fill="#1edf4c"/>
<rect x="313.20" y="187.94" width="2.22" height="33.63" fill="#eeeee0"/>
<rect x="313.20" y="221.57" width="2.22" height="33.63" fill="#d9f0cd"/>
<rect x="315.40" y="137.50" width="4.62" height="50.44" fill="#d9f0cd"/>
<rect x="315.40" y="187.94" width="4.62" height="33.63" fill="#eeeee0"/>
<rect x="315.40" y="221.57" width="4.62" height="33.63" fill="#d9f0cd"/>
<rect x="320.00" y="137.50" width="2.02" height="50.44" fill="#d9f0cd"/>
<rect x="320.00" y="187.94" width="2.02" height="50.44" fill="#eeeee0"/>
<rect x="320.00" y="238.39" width="2.02" height="16.81" fill="#d9f0cd"/>
<rect x="322.00" y="137.50" width="4.72" height="16.81" fill="#eeeee0"/>
<rect x="322.00" y="154.31" width="4.72" height="67.26" fill="#d9f0cd"/>
<rect x="322.00" y="221.57" width="4.72" height="16.81" fill="#eeeee0"/>
<rect x="322.00" y="238.39" width="4.72" height="16.81" fill="#d9f0cd"/>
<rect x="326.70" y="137.50" width="12.92" height="84.07" fill="#d9f0cd"/>
<rect x="326.70" y="221.57" width="12.92" height="16.81" fill="#eeeee0"/>
<rect x="326.70" y="238.39" width="12.92" height="16.81" fill="#d9f0cd"/>
<rect x="339.60" y="137.50" width="2.22" height="16.81" fill="#eeeee0"/>
<rect x="339.60" y="154.31" width="2.22" height="67.26" fill="#d9f0cd"/>
<rect x="339.60" y="221.57" width="2.22" height="16.81" fill="#eeeee0"/>
<rect x="339.60" y="238.39" width="2.22" height="16.81" fill="#d9f0cd"/>
<rect x="341.80" y="137.50" width="2.22" height="16.81" fill="#eeeee0"/>
<rect x="341.80" y="154.31" width="2.22" height="16.81" fill="#d9f0cd"/>
<rect x="341.80" y="171.13" width="2.22" height="16.81" fill="#eeeee0"/>
<rect x="341.80" y="187.94" width="2.22" height="33.63" fill="#d9f0cd"/>
<rect x="341.80" y="221.57" width="2.22" height="16.81" fill="#eeeee0"/>
<rect x="341.80" y="238.39" width="2.22" height="16.81" fill="#d9f0cd"/>
<rect x="344.00" y="137.50" width="8.62" height="33.63" fill="#d9f0cd"/>
<rect x="344.00" y="171.13" width="8.62" height="16.81" fill="#eeeee0"/>
<rect x="344.00" y="187.94" width="8.62" height="33.63" fill="#d9f0cd"/>
<rect x="344.00" y="221.57" width="8.62" height="16.81" fill="#eeeee0"/>
<rect x="344.00" y="238.39" width="8.62" height="16.81" fill="#d9f0cd"/>
<rect x="352.60" y="137.50" width="8.72" height="16.81" fill="#eeeee0"/>
<rect x="352.60" y="154.31" width="8.72" height="16.81" fill="#d9f0cd"/>
<rect x="352.60" y="171.13" width="8.72" height="16.81" fill="#eeeee0"/>
<rect x="352.60" y="187.94" width="8.72" height="33.63" fill="#d9f0cd"/>
<rect x="352.60" y="221.57" width="8.72" height="16.81" fill="#eeeee0"/>
<rect x="352.60" y="238.39" width="8.72" height="16.81" fill="#d9f0cd"/>
<rect x="361.30" y="137.50" width="2.22" height="33.63" fill="#eeeee0"/>
<rect x="361.30" y="171.13" width="2.22" height="50.44" fill="#d9f0cd"/>
<rect x="361.30" y="221.57" width="2.22" height="16.81" fill="#eeeee0"/>
<rect x="361.30" y="238.39" width="2.22" height="16.81" fill="#d9f0cd"/>
<rect x="363.50" y="137.50" width="2.12" height="33.63" fill="#eeeee0"/>
<rect x="363.50" y="171.13" width="2.12" height="16.81" fill="#d9f0cd"/>
<rect x="363.50" y="187.94" width="2.12" height="16.81" fill="#eeeee0"/>
<rect x="363.50" y="204.76" width="2.12" height="16.81" fill="#d9f0cd"/>
<rect x="363.50" y="221.57" width="2.12" height="16.81" fill="#eeeee0"/>
<rect x="363.50" y="238.39" width="2.12" height="16.81" fill="#d9f0cd"/>
<rect x="365.60" y="137.50" width="4.42" height="16.81" fill="#d9f0cd"/>
<rect x="365.60" y="154.31" width="4.42" height="16.81" fill="#eeeee0"/>
<rect x="365.60" y="171.13" width="4.42" height="16.81" fill="#d9f0cd"/>
<rect x="365.60" y="187.94" width="4.42" height="16.81" fill="#eeeee0"/>
<rect x="365.60" y="204.76" width="4.42" height="16.81" fill="#d9f0cd"/>
<rect x="365.60" y="221.57" width="4.42" height="16.81" fill="#eeeee0"/>
<rect x="365.60" y="238.39" width="4.42" height="16.81" fill="#d9f0cd"/>
<rect x="370.00" y="137.50" width="8.62" height="16.81" fill="#eeeee0"/>
<rect x="370.00" y="154.31" width="8.62" height="16.81" fill="#d9f0cd"/>
<rect x="370.00" y="171.13" width="8.62" height="33.63" fill="#eeeee0"/>
<rect x="370.00" y="204.76" width="8.62" height="16.81" fill="#d9f0cd"/>
<rect x="370.00" y="221.57" width="8.62" height="16.81" fill="#eeeee0"/>
<rect x="370.00" y="238.39" width="8.62" height="16.81" fill="#d9f0cd"/>
<rect x="378.60" y="137.50" width="2.22" height="33.63" fill="#d9f0cd"/>
<rect x="378.60" y="171.13" width="2.22" height="33.63" fill="#eeeee0"/>
<rect x="378.60" y="204.76" width="2.22" height="16.81" fill="#d9f0cd"/>
<rect x="378.60" y="221.57" width="2.22" height="16.81" fill="#eeeee0"/>
<rect x="378.60" y="238.39" width="2.22" height="16.81" fill="#d9f0cd"/>
<rect x="380.80" y="137.50" width="2.22" height="16.81" fill="#eeeee0"/>
<rect x="380.80" y="154.31" width="2.22" height="33.63" fill="#d9f0cd"/>
<rect x="380.80" y="187.94" width="2.22" height="16.81" fill="#eeeee0"/>
<rect x="380.80" y="204.76" width="2.22" height="16.81" fill="#d9f0cd"/>
<rect x="380.80" y="221.57" width="2.22" height="16.81" fill="#eeeee0"/>
<rect x="380.80" y="238.39" width="2.22" height="16.81" fill="#d9f0cd"/>
<rect x="383.00" y="137.50" width="4.02" height="16.81" fill="#eeeee0"/>
<rect x="383.00" y="154.31" width="4.02" height="67.26" fill="#d9f0cd"/>
<rect x="383.00" y="221.57" width="4.02" height="16.81" fill="#eeeee0"/>
<rect x="383.00" y="238.39" width="4.02" height="16.81" fill="#d9f0cd"/>
<rect x="387.00" y="137.50" width="4.62" height="16.81" fill="#eeeee0"/>
<rect x="387.00" y="154.31" width="4.62" height="50.44" fill="#d9f0cd"/>
<rect x="387.00" y="204.76" width="4.62" height="33.63" fill="#eeeee0"/>
<rect x="387.00" y="238.39" width="4.62" height="16.81" fill="#d9f0cd"/>
<rect x="391.60" y="137.50" width="9.02" height="16.81" fill="#eeeee0"/>
<rect x="391.60" y="154.31" width="9.02" height="16.81" fill="#d9f0cd"/>
<rect x="391.60" y="171.13" width="9.02" height="16.81" fill="#eeeee0"/>
<rect x="391.60" y="187.94" width="9.02" height="16.81" fill="#d9f0cd"/>
<rect x="391.60" y="204.76" width="9.02" height="33.63" fill="#eeeee0"/>
<rect x="391.60" y="238.39" width="9.02" height="16.81" fill="#d9f0cd"/>
<rect x="400.60" y="137.50" width="1.72" height="16.81" fill="#eeeee0"/>
<rect x="400.60" y="154.31" width="1.72" height="50.44" fill="#2f7fb0"/>
<rect x="400.60" y="204.76" width="1.72" height="33.63" fill="#eeeee0"/>
<rect x="400.60" y="238.39" width="1.72" height="16.81" fill="#2f7fb0"/>
<rect x="402.30" y="137.50" width="2.22" height="16.81" fill="#eeeee0"/>
<rect x="402.30" y="154.31" width="2.22" height="16.81" fill="#d9f0cd"/>
<rect x="402.30" y="171.13" width="2.22" height="16.81" fill="#eeeee0"/>
<rect x="402.30" y="187.94" width="2.22" height="16.81" fill="#d9f0cd"/>
<rect x="402.30" y="204.76" width="2.22" height="33.63" fill="#eeeee0"/>
<rect x="402.30" y="238.39" width="2.22" height="16.81" fill="#d9f0cd"/>
<rect x="404.50" y="137.50" width="2.22" height="16.81" fill="#eeeee0"/>
<rect x="404.50" y="154.31" width="2.22" height="16.81" fill="#d9f0cd"/>
<rect x="404.50" y="171.13" width="2.22" height="16.81" fill="#eeeee0"/>
<rect x="404.50" y="187.94" width="2.22" height="16.81" fill="#d9f0cd"/>
<rect x="404.50" y="204.76" width="2.22" height="33.63" fill="#eeeee0"/>
<rect x="404.50" y="238.39" width="2.22" height="16.81" fill="#d9f0cd"/>
<rect x="406.70" y="137.50" width="12.92" height="33.63" fill="#d9f0cd"/>
<rect x="406.70" y="171.13" width="12.92" height="16.81" fill="#eeeee0"/>
<rect x="406.70" y="187.94" width="12.92" height="16.81" fill="#d9f0cd"/>
<rect x="406.70" y="204.76" width="12.92" height="33.63" fill="#eeeee0"/>
<rect x="406.70" y="238.39" width="12.92" height="16.81" fill="#d9f0cd"/>
<rect x="419.60" y="137.50" width="32.42" height="16.81" fill="#eeeee0"/>
<rect x="419.60" y="154.31" width="32.42" height="16.81" fill="#d9f0cd"/>
<rect x="419.60" y="171.13" width="32.42" height="16.81" fill="#eeeee0"/>
<rect x="419.60" y="187.94" width="32.42" height="16.81" fill="#d9f0cd"/>
<rect x="419.60" y="204.76" width="32.42" height="33.63" fill="#eeeee0"/>
<rect x="419.60" y="238.39" width="32.42" height="16.81" fill="#d9f0cd"/>
<rect x="452.00" y="137.50" width="6.62" height="16.81" fill="#d9f0cd"/>
<rect x="452.00" y="154.31" width="6.62" height="84.07" fill="#eeeee0"/>
<rect x="452.00" y="238.39" width="6.62" height="16.81" fill="#d9f0cd"/>
<rect x="458.60" y="137.50" width="2.22" height="50.44" fill="#eeeee0"/>
<rect x="458.60" y="187.94" width="2.22" height="16.81" fill="#d9f0cd"/>
<rect x="458.60" y="204.76" width="2.22" height="33.63" fill="#eeeee0"/>
<rect x="458.60" y="238.39" width="2.22" height="16.81" fill="#d9f0cd"/>
<rect x="460.80" y="137.50" width="8.62" height="100.89" fill="#eeeee0"/>
<rect x="460.80" y="238.39" width="8.62" height="16.81" fill="#d9f0cd"/>
<rect x="469.40" y="137.50" width="1.12" height="100.89" fill="#eeeee0"/>
<rect x="469.40" y="238.39" width="1.12" height="16.81" fill="#b8b8e2"/>
<rect x="470.50" y="137.50" width="1.12" height="117.70" fill="#eeeee0"/>
<rect x="471.60" y="137.50" width="2.12" height="33.63" fill="#1edf4c"/>
<rect x="471.60" y="171.13" width="2.12" height="16.81" fill="#eeeee0"/>
<rect x="471.60" y="187.94" width="2.12" height="16.81" fill="#1edf4c"/>
<rect x="471.60" y="204.76" width="2.12" height="16.81" fill="#eeeee0"/>
<rect x="471.60" y="221.57" width="2.12" height="16.81" fill="#1edf4c"/>
<rect x="471.60" y="238.39" width="2.12" height="16.81" fill="#eeeee0"/>
<rect x="473.70" y="137.50" width="3.32" height="117.70" fill="#eeeee0"/>
<rect x="477.00" y="137.50" width="2.02" height="67.26" fill="#eeeee0"/>
<rect x="477.00" y="204.76" width="2.02" height="16.81" fill="#9d9de6"/>
<rect x="477.00" y="221.57" width="2.02" height="33.63" fill="#eeeee0"/>
<rect x="479.00" y="137.50" width="2.22" height="117.70" fill="#eeeee0"/>
<path d="M268.62 137.5V255.2M270.74 137.5V255.2M272.86 137.5V255.2M274.98 137.5V255.2M277.10 137.5V255.2M279.22 137.5V255.2M281.34 137.5V255.2M283.46 137.5V255.2M285.58 137.5V255.2M287.70 137.5V255.2M289.82 137.5V255.2M291.94 137.5V255.2M294.06 137.5V255.2M296.18 137.5V255.2M298.30 137.5V255.2M300.42 137.5V255.2M302.54 137.5V255.2M304.66 137.5V255.2M306.78 137.5V255.2M308.90 137.5V255.2M311.02 137.5V255.2M313.14 137.5V255.2M315.26 137.5V255.2M317.38 137.5V255.2M319.50 137.5V255.2M321.62 137.5V255.2M323.74 137.5V255.2M325.86 137.5V255.2M327.98 137.5V255.2M330.10 137.5V255.2M332.22 137.5V255.2M334.34 137.5V255.2M336.46 137.5V255.2M338.58 137.5V255.2M340.70 137.5V255.2M342.82 137.5V255.2M344.94 137.5V255.2M347.06 137.5V255.2M349.18 137.5V255.2M351.30 137.5V255.2M353.42 137.5V255.2M355.54 137.5V255.2M357.66 137.5V255.2M359.78 137.5V255.2M361.90 137.5V255.2M364.02 137.5V255.2M366.14 137.5V255.2M368.26 137.5V255.2M370.38 137.5V255.2M372.50 137.5V255.2M374.62 137.5V255.2M376.74 137.5V255.2M378.86 137.5V255.2M380.98 137.5V255.2M383.10 137.5V255.2M385.22 137.5V255.2M387.34 137.5V255.2M389.46 137.5V255.2M391.58 137.5V255.2M393.70 137.5V255.2M395.82 137.5V255.2M397.94 137.5V255.2M400.06 137.5V255.2M402.18 137.5V255.2M404.30 137.5V255.2M406.42 137.5V255.2M408.54 137.5V255.2M410.66 137.5V255.2M412.78 137.5V255.2M414.90 137.5V255.2M417.02 137.5V255.2M419.14 137.5V255.2M421.26 137.5V255.2M423.38 137.5V255.2M425.50 137.5V255.2M427.62 137.5V255.2M429.74 137.5V255.2M431.86 137.5V255.2M433.98 137.5V255.2M436.10 137.5V255.2M438.22 137.5V255.2M440.34 137.5V255.2M442.46 137.5V255.2M444.58 137.5V255.2M446.70 137.5V255.2M448.82 137.5V255.2M450.94 137.5V255.2M453.06 137.5V255.2M455.18 137.5V255.2M457.30 137.5V255.2M459.42 137.5V255.2M461.54 137.5V255.2M463.66 137.5V255.2M465.78 137.5V255.2M467.90 137.5V255.2M470.02 137.5V255.2M472.14 137.5V255.2M474.26 137.5V255.2M476.38 137.5V255.2M478.50 137.5V255.2M480.62 137.5V255.2" stroke="#9a9a90" stroke-width="0.35" opacity="0.22" fill="none"/>
<path d="M266.5 154.31H481.2M266.5 171.13H481.2M266.5 187.94H481.2M266.5 204.76H481.2M266.5 221.57H481.2M266.5 238.39H481.2" stroke="#9a9a90" stroke-width="0.35" opacity="0.22" fill="none"/>
<rect x="266.50" y="137.50" width="214.70" height="117.70" fill="none" stroke="#222" stroke-width="1.0"/>
<rect x="266.40" y="270.70" width="2.12" height="94.30" fill="#fcc7dc"/>
<rect x="268.50" y="270.70" width="4.12" height="47.15" fill="#f052d2"/>
<rect x="268.50" y="317.85" width="4.12" height="15.72" fill="#fcfbe8"/>
<rect x="268.50" y="333.57" width="4.12" height="31.43" fill="#f052d2"/>
<rect x="272.60" y="270.70" width="6.72" height="94.30" fill="#fcc7dc"/>
<rect x="279.30" y="270.70" width="3.12" height="78.58" fill="#fcc7dc"/>
<rect x="279.30" y="349.28" width="3.12" height="15.72" fill="#fcfbe8"/>
<rect x="282.40" y="270.70" width="3.02" height="78.58" fill="#b9e6dc"/>
<rect x="282.40" y="349.28" width="3.02" height="15.72" fill="#fcfbe8"/>
<rect x="285.40" y="270.70" width="3.12" height="47.15" fill="#fde1dc"/>
<rect x="285.40" y="317.85" width="3.12" height="15.72" fill="#fcc7dc"/>
<rect x="285.40" y="333.57" width="3.12" height="15.72" fill="#fde1dc"/>
<rect x="285.40" y="349.28" width="3.12" height="15.72" fill="#fcfbe8"/>
<rect x="288.50" y="270.70" width="5.62" height="47.15" fill="#1a9aaa"/>
<rect x="288.50" y="317.85" width="5.62" height="15.72" fill="#fcfbe8"/>
<rect x="288.50" y="333.57" width="5.62" height="15.72" fill="#1a9aaa"/>
<rect x="288.50" y="349.28" width="5.62" height="15.72" fill="#fcfbe8"/>
<rect x="294.10" y="270.70" width="4.12" height="47.15" fill="#8ed4cc"/>
<rect x="294.10" y="317.85" width="4.12" height="15.72" fill="#fcfbe8"/>
<rect x="294.10" y="333.57" width="4.12" height="15.72" fill="#8ed4cc"/>
<rect x="294.10" y="349.28" width="4.12" height="15.72" fill="#fcfbe8"/>
<rect x="298.20" y="270.70" width="2.12" height="47.15" fill="#1a9aaa"/>
<rect x="298.20" y="317.85" width="2.12" height="15.72" fill="#fcfbe8"/>
<rect x="298.20" y="333.57" width="2.12" height="15.72" fill="#1a9aaa"/>
<rect x="298.20" y="349.28" width="2.12" height="15.72" fill="#fcfbe8"/>
<rect x="300.30" y="270.70" width="2.02" height="62.87" fill="#f052d2"/>
<rect x="300.30" y="333.57" width="2.02" height="31.43" fill="#fcfbe8"/>
<rect x="302.30" y="270.70" width="1.52" height="62.87" fill="#f893d6"/>
<rect x="302.30" y="333.57" width="1.52" height="31.43" fill="#fcfbe8"/>
<rect x="303.80" y="270.70" width="2.12" height="62.87" fill="#f052d2"/>
<rect x="303.80" y="333.57" width="2.12" height="31.43" fill="#fcfbe8"/>
<rect x="305.90" y="270.70" width="4.12" height="62.87" fill="#fcc7dc"/>
<rect x="305.90" y="333.57" width="4.12" height="31.43" fill="#fcfbe8"/>
<rect x="310.00" y="270.70" width="3.02" height="62.87" fill="#b9e6dc"/>
<rect x="310.00" y="333.57" width="3.02" height="31.43" fill="#fcfbe8"/>
<rect x="313.00" y="270.70" width="3.02" height="62.87" fill="#f052d2"/>
<rect x="313.00" y="333.57" width="3.02" height="31.43" fill="#fcfbe8"/>
<rect x="316.00" y="270.70" width="1.02" height="47.15" fill="#fcc7dc"/>
<rect x="316.00" y="317.85" width="1.02" height="15.72" fill="#f052d2"/>
<rect x="316.00" y="333.57" width="1.02" height="31.43" fill="#fcfbe8"/>
<rect x="317.00" y="270.70" width="3.02" height="62.87" fill="#f052d2"/>
<rect x="317.00" y="333.57" width="3.02" height="31.43" fill="#fcfbe8"/>
<rect x="320.00" y="270.70" width="1.62" height="62.87" fill="#f052d2"/>
<rect x="320.00" y="333.57" width="1.62" height="31.43" fill="#fcfbe8"/>
<rect x="321.60" y="270.70" width="1.52" height="62.87" fill="#fcc7dc"/>
<rect x="321.60" y="333.57" width="1.52" height="31.43" fill="#fcfbe8"/>
<rect x="323.10" y="270.70" width="2.12" height="62.87" fill="#f893d6"/>
<rect x="323.10" y="333.57" width="2.12" height="31.43" fill="#fcfbe8"/>
<rect x="325.20" y="270.70" width="3.02" height="62.87" fill="#2eb3aa"/>
<rect x="325.20" y="333.57" width="3.02" height="15.72" fill="#fcfbe8"/>
<rect x="325.20" y="349.28" width="3.02" height="15.72" fill="#2eb3aa"/>
<rect x="328.20" y="270.70" width="3.12" height="94.30" fill="#fcc7dc"/>
<rect x="331.30" y="270.70" width="5.62" height="94.30" fill="#b9e6dc"/>
<rect x="336.90" y="270.70" width="3.12" height="94.30" fill="#f052d2"/>
<rect x="340.00" y="270.70" width="3.02" height="94.30" fill="#f893d6"/>
<rect x="343.00" y="270.70" width="3.12" height="62.87" fill="#fde1dc"/>
<rect x="343.00" y="333.57" width="3.12" height="15.72" fill="#fcfbe8"/>
<rect x="343.00" y="349.28" width="3.12" height="15.72" fill="#fde1dc"/>
<rect x="346.10" y="270.70" width="3.62" height="62.87" fill="#b9e6dc"/>
<rect x="346.10" y="333.57" width="3.62" height="15.72" fill="#fcfbe8"/>
<rect x="346.10" y="349.28" width="3.62" height="15.72" fill="#b9e6dc"/>
<rect x="349.70" y="270.70" width="2.62" height="62.87" fill="#fcc7dc"/>
<rect x="349.70" y="333.57" width="2.62" height="15.72" fill="#fcfbe8"/>
<rect x="349.70" y="349.28" width="2.62" height="15.72" fill="#fcc7dc"/>
<rect x="352.30" y="270.70" width="6.12" height="62.87" fill="#f893d6"/>
<rect x="352.30" y="333.57" width="6.12" height="15.72" fill="#fcfbe8"/>
<rect x="352.30" y="349.28" width="6.12" height="15.72" fill="#f893d6"/>
<rect x="358.40" y="270.70" width="3.62" height="62.87" fill="#fcc7dc"/>
<rect x="358.40" y="333.57" width="3.62" height="15.72" fill="#fcfbe8"/>
<rect x="358.40" y="349.28" width="3.62" height="15.72" fill="#fcc7dc"/>
<rect x="362.00" y="270.70" width="2.52" height="94.30" fill="#2eb3aa"/>
<rect x="364.50" y="270.70" width="3.62" height="94.30" fill="#fcc7dc"/>
<rect x="368.10" y="270.70" width="3.92" height="94.30" fill="#f052d2"/>
<rect x="372.00" y="270.70" width="1.62" height="62.87" fill="#fde1dc"/>
<rect x="372.00" y="333.57" width="1.62" height="15.72" fill="#fcfbe8"/>
<rect x="372.00" y="349.28" width="1.62" height="15.72" fill="#fde1dc"/>
<rect x="373.60" y="270.70" width="6.62" height="62.87" fill="#b9e6dc"/>
<rect x="373.60" y="333.57" width="6.62" height="15.72" fill="#fcfbe8"/>
<rect x="373.60" y="349.28" width="6.62" height="15.72" fill="#b9e6dc"/>
<rect x="380.20" y="270.70" width="3.62" height="62.87" fill="#fcc7dc"/>
<rect x="380.20" y="333.57" width="3.62" height="15.72" fill="#fcfbe8"/>
<rect x="380.20" y="349.28" width="3.62" height="15.72" fill="#fcc7dc"/>
<rect x="383.80" y="270.70" width="5.12" height="78.58" fill="#f893d6"/>
<rect x="383.80" y="349.28" width="5.12" height="15.72" fill="#fcfbe8"/>
<rect x="388.90" y="270.70" width="3.62" height="78.58" fill="#b9e6dc"/>
<rect x="388.90" y="349.28" width="3.62" height="15.72" fill="#fcfbe8"/>
<rect x="392.50" y="270.70" width="2.52" height="78.58" fill="#f052d2"/>
<rect x="392.50" y="349.28" width="2.52" height="15.72" fill="#fcfbe8"/>
<rect x="395.00" y="270.70" width="1.02" height="47.15" fill="#f893d6"/>
<rect x="395.00" y="317.85" width="1.02" height="15.72" fill="#fcfbe8"/>
<rect x="395.00" y="333.57" width="1.02" height="15.72" fill="#f052d2"/>
<rect x="395.00" y="349.28" width="1.02" height="15.72" fill="#fcfbe8"/>
<rect x="396.00" y="270.70" width="2.12" height="47.15" fill="#f052d2"/>
<rect x="396.00" y="317.85" width="2.12" height="15.72" fill="#fcfbe8"/>
<rect x="396.00" y="333.57" width="2.12" height="15.72" fill="#f052d2"/>
<rect x="396.00" y="349.28" width="2.12" height="15.72" fill="#fcfbe8"/>
<rect x="398.10" y="270.70" width="6.72" height="47.15" fill="#fcc7dc"/>
<rect x="398.10" y="317.85" width="6.72" height="15.72" fill="#fcfbe8"/>
<rect x="398.10" y="333.57" width="6.72" height="15.72" fill="#fcc7dc"/>
<rect x="398.10" y="349.28" width="6.72" height="15.72" fill="#fcfbe8"/>
<rect x="404.80" y="270.70" width="3.02" height="62.87" fill="#b9e6dc"/>
<rect x="404.80" y="333.57" width="3.02" height="15.72" fill="#8ed4cc"/>
<rect x="404.80" y="349.28" width="3.02" height="15.72" fill="#fcfbe8"/>
<rect x="407.80" y="270.70" width="2.62" height="62.87" fill="#f052d2"/>
<rect x="407.80" y="333.57" width="2.62" height="31.43" fill="#fcfbe8"/>
<rect x="410.40" y="270.70" width="3.62" height="47.15" fill="#fde1dc"/>
<rect x="410.40" y="317.85" width="3.62" height="47.15" fill="#fcfbe8"/>
<rect x="414.00" y="270.70" width="3.02" height="47.15" fill="#b9e6dc"/>
<rect x="414.00" y="317.85" width="3.02" height="47.15" fill="#fcfbe8"/>
<rect x="417.00" y="270.70" width="3.12" height="31.43" fill="#f893d6"/>
<rect x="417.00" y="302.13" width="3.12" height="15.72" fill="#fcfbe8"/>
<rect x="417.00" y="317.85" width="3.12" height="15.72" fill="#f893d6"/>
<rect x="417.00" y="333.57" width="3.12" height="31.43" fill="#fcfbe8"/>
<rect x="420.10" y="270.70" width="3.92" height="31.43" fill="#b9e6dc"/>
<rect x="420.10" y="302.13" width="3.92" height="62.87" fill="#fcfbe8"/>
<rect x="424.00" y="270.70" width="2.02" height="47.15" fill="#b9e6dc"/>
<rect x="424.00" y="317.85" width="2.02" height="47.15" fill="#fcfbe8"/>
<rect x="426.00" y="270.70" width="2.32" height="31.43" fill="#f052d2"/>
<rect x="426.00" y="302.13" width="2.32" height="15.72" fill="#fcfbe8"/>
<rect x="426.00" y="317.85" width="2.32" height="15.72" fill="#f052d2"/>
<rect x="426.00" y="333.57" width="2.32" height="31.43" fill="#fcfbe8"/>
<rect x="428.30" y="270.70" width="1.72" height="31.43" fill="#f893d6"/>
<rect x="428.30" y="302.13" width="1.72" height="15.72" fill="#f052d2"/>
<rect x="428.30" y="317.85" width="1.72" height="15.72" fill="#f893d6"/>
<rect x="428.30" y="333.57" width="1.72" height="31.43" fill="#fcfbe8"/>
<rect x="430.00" y="270.70" width="2.22" height="62.87" fill="#f052d2"/>
<rect x="430.00" y="333.57" width="2.22" height="31.43" fill="#fcfbe8"/>
<rect x="432.20" y="270.70" width="2.82" height="47.15" fill="#b9e6dc"/>
<rect x="432.20" y="317.85" width="2.82" height="15.72" fill="#fcfbe8"/>
<rect x="432.20" y="333.57" width="2.82" height="15.72" fill="#b9e6dc"/>
<rect x="432.20" y="349.28" width="2.82" height="15.72" fill="#fcfbe8"/>
<rect x="435.00" y="270.70" width="9.72" height="47.15" fill="#fcfbe8"/>
<rect x="435.00" y="317.85" width="9.72" height="31.43" fill="#f052d2"/>
<rect x="435.00" y="349.28" width="9.72" height="15.72" fill="#fcfbe8"/>
<rect x="444.70" y="270.70" width="2.92" height="62.87" fill="#f052d2"/>
<rect x="444.70" y="333.57" width="2.92" height="31.43" fill="#fcfbe8"/>
<rect x="447.60" y="270.70" width="1.72" height="31.43" fill="#f893d6"/>
<rect x="447.60" y="302.13" width="1.72" height="62.87" fill="#fcfbe8"/>
<rect x="449.30" y="270.70" width="6.82" height="31.43" fill="#f052d2"/>
<rect x="449.30" y="302.13" width="6.82" height="62.87" fill="#fcfbe8"/>
<rect x="456.10" y="270.70" width="3.42" height="62.87" fill="#fcc7dc"/>
<rect x="456.10" y="333.57" width="3.42" height="31.43" fill="#fcfbe8"/>
<rect x="459.50" y="270.70" width="2.82" height="62.87" fill="#b9e6dc"/>
<rect x="459.50" y="333.57" width="2.82" height="31.43" fill="#fcfbe8"/>
<rect x="462.30" y="270.70" width="3.52" height="62.87" fill="#f052d2"/>
<rect x="462.30" y="333.57" width="3.52" height="31.43" fill="#fcfbe8"/>
<rect x="465.80" y="270.70" width="2.82" height="31.43" fill="#b9e6dc"/>
<rect x="465.80" y="302.13" width="2.82" height="15.72" fill="#fcfbe8"/>
<rect x="465.80" y="317.85" width="2.82" height="15.72" fill="#b9e6dc"/>
<rect x="465.80" y="333.57" width="2.82" height="31.43" fill="#fcfbe8"/>
<rect x="468.60" y="270.70" width="3.42" height="47.15" fill="#fcfbe8"/>
<rect x="468.60" y="317.85" width="3.42" height="15.72" fill="#f052d2"/>
<rect x="468.60" y="333.57" width="3.42" height="31.43" fill="#fcfbe8"/>
<rect x="472.00" y="270.70" width="3.42" height="94.30" fill="#fcfbe8"/>
<rect x="475.40" y="270.70" width="2.32" height="47.15" fill="#fcfbe8"/>
<rect x="475.40" y="317.85" width="2.32" height="15.72" fill="#f052d2"/>
<rect x="475.40" y="333.57" width="2.32" height="31.43" fill="#fcfbe8"/>
<rect x="477.70" y="270.70" width="3.82" height="31.43" fill="#fcfbe8"/>
<rect x="477.70" y="302.13" width="3.82" height="31.43" fill="#f052d2"/>
<rect x="477.70" y="333.57" width="3.82" height="31.43" fill="#fcfbe8"/>
<path d="M268.52 270.7V365.0M270.64 270.7V365.0M272.76 270.7V365.0M274.88 270.7V365.0M277.00 270.7V365.0M279.12 270.7V365.0M281.24 270.7V365.0M283.36 270.7V365.0M285.48 270.7V365.0M287.60 270.7V365.0M289.72 270.7V365.0M291.84 270.7V365.0M293.96 270.7V365.0M296.08 270.7V365.0M298.20 270.7V365.0M300.32 270.7V365.0M302.44 270.7V365.0M304.56 270.7V365.0M306.68 270.7V365.0M308.80 270.7V365.0M310.92 270.7V365.0M313.04 270.7V365.0M315.16 270.7V365.0M317.28 270.7V365.0M319.40 270.7V365.0M321.52 270.7V365.0M323.64 270.7V365.0M325.76 270.7V365.0M327.88 270.7V365.0M330.00 270.7V365.0M332.12 270.7V365.0M334.24 270.7V365.0M336.36 270.7V365.0M338.48 270.7V365.0M340.60 270.7V365.0M342.72 270.7V365.0M344.84 270.7V365.0M346.96 270.7V365.0M349.08 270.7V365.0M351.20 270.7V365.0M353.32 270.7V365.0M355.44 270.7V365.0M357.56 270.7V365.0M359.68 270.7V365.0M361.80 270.7V365.0M363.92 270.7V365.0M366.04 270.7V365.0M368.16 270.7V365.0M370.28 270.7V365.0M372.40 270.7V365.0M374.52 270.7V365.0M376.64 270.7V365.0M378.76 270.7V365.0M380.88 270.7V365.0M383.00 270.7V365.0M385.12 270.7V365.0M387.24 270.7V365.0M389.36 270.7V365.0M391.48 270.7V365.0M393.60 270.7V365.0M395.72 270.7V365.0M397.84 270.7V365.0M399.96 270.7V365.0M402.08 270.7V365.0M404.20 270.7V365.0M406.32 270.7V365.0M408.44 270.7V365.0M410.56 270.7V365.0M412.68 270.7V365.0M414.80 270.7V365.0M416.92 270.7V365.0M419.04 270.7V365.0M421.16 270.7V365.0M423.28 270.7V365.0M425.40 270.7V365.0M427.52 270.7V365.0M429.64 270.7V365.0M431.76 270.7V365.0M433.88 270.7V365.0M436.00 270.7V365.0M438.12 270.7V365.0M440.24 270.7V365.0M442.36 270.7V365.0M444.48 270.7V365.0M446.60 270.7V365.0M448.72 270.7V365.0M450.84 270.7V365.0M452.96 270.7V365.0M455.08 270.7V365.0M457.20 270.7V365.0M459.32 270.7V365.0M461.44 270.7V365.0M463.56 270.7V365.0M465.68 270.7V365.0M467.80 270.7V365.0M469.92 270.7V365.0M472.04 270.7V365.0M474.16 270.7V365.0M476.28 270.7V365.0M478.40 270.7V365.0M480.52 270.7V365.0" stroke="#9a9a90" stroke-width="0.35" opacity="0.22" fill="none"/>
<path d="M266.4 286.42H481.5M266.4 302.13H481.5M266.4 317.85H481.5M266.4 333.57H481.5M266.4 349.28H481.5" stroke="#9a9a90" stroke-width="0.35" opacity="0.22" fill="none"/>
<rect x="266.40" y="270.70" width="215.10" height="94.30" fill="none" stroke="#222" stroke-width="1.0"/>
<rect x="266.40" y="368.40" width="1.02" height="31.37" fill="#fcc7dc"/>
<rect x="266.40" y="399.77" width="1.02" height="15.68" fill="#fcfbe8"/>
<rect x="266.40" y="415.45" width="1.02" height="15.68" fill="#f052d2"/>
<rect x="266.40" y="431.13" width="1.02" height="31.37" fill="#fcfbe8"/>
<rect x="267.40" y="368.40" width="1.32" height="31.37" fill="#fcc7dc"/>
<rect x="267.40" y="399.77" width="1.32" height="62.73" fill="#fcfbe8"/>
<rect x="268.70" y="368.40" width="2.62" height="31.37" fill="#fcc7dc"/>
<rect x="268.70" y="399.77" width="2.62" height="31.37" fill="#fcfbe8"/>
<rect x="268.70" y="431.13" width="2.62" height="15.68" fill="#fcc7dc"/>
<rect x="268.70" y="446.82" width="2.62" height="15.68" fill="#fcfbe8"/>
<rect x="271.30" y="368.40" width="1.82" height="31.37" fill="#fcc7dc"/>
<rect x="271.30" y="399.77" width="1.82" height="62.73" fill="#fcfbe8"/>
<rect x="273.10" y="368.40" width="2.72" height="31.37" fill="#d070d6"/>
<rect x="273.10" y="399.77" width="2.72" height="62.73" fill="#fcfbe8"/>
<rect x="275.80" y="368.40" width="5.42" height="31.37" fill="#fcc7dc"/>
<rect x="275.80" y="399.77" width="5.42" height="62.73" fill="#fcfbe8"/>
<rect x="281.20" y="368.40" width="1.82" height="94.10" fill="#f893d6"/>
<rect x="283.00" y="368.40" width="3.52" height="94.10" fill="#fcc7dc"/>
<rect x="286.50" y="368.40" width="1.42" height="94.10" fill="#f893d6"/>
<rect x="287.90" y="368.40" width="1.32" height="94.10" fill="#f052d2"/>
<rect x="289.20" y="368.40" width="3.52" height="94.10" fill="#fcc7dc"/>
<rect x="292.70" y="368.40" width="7.22" height="62.73" fill="#fcc7dc"/>
<rect x="292.70" y="431.13" width="7.22" height="15.68" fill="#fcfbe8"/>
<rect x="292.70" y="446.82" width="7.22" height="15.68" fill="#fcc7dc"/>
<rect x="299.90" y="368.40" width="1.82" height="78.42" fill="#f893d6"/>
<rect x="299.90" y="446.82" width="1.82" height="15.68" fill="#fcfbe8"/>
<rect x="301.70" y="368.40" width="1.82" height="78.42" fill="#f052d2"/>
<rect x="301.70" y="446.82" width="1.82" height="15.68" fill="#fcfbe8"/>
<rect x="303.50" y="368.40" width="0.82" height="78.42" fill="#f893d6"/>
<rect x="303.50" y="446.82" width="0.82" height="15.68" fill="#fcfbe8"/>
<rect x="304.30" y="368.40" width="2.72" height="62.73" fill="#f893d6"/>
<rect x="304.30" y="431.13" width="2.72" height="15.68" fill="#f052d2"/>
<rect x="304.30" y="446.82" width="2.72" height="15.68" fill="#fcfbe8"/>
<rect x="307.00" y="368.40" width="5.32" height="62.73" fill="#e4b4e2"/>
<rect x="307.00" y="431.13" width="5.32" height="31.37" fill="#fcfbe8"/>
<rect x="312.30" y="368.40" width="4.72" height="62.73" fill="#fcc7dc"/>
<rect x="312.30" y="431.13" width="4.72" height="31.37" fill="#fcfbe8"/>
<rect x="317.00" y="368.40" width="2.52" height="62.73" fill="#f052d2"/>
<rect x="317.00" y="431.13" width="2.52" height="31.37" fill="#fcfbe8"/>
<rect x="319.50" y="368.40" width="2.62" height="62.73" fill="#f893d6"/>
<rect x="319.50" y="431.13" width="2.62" height="31.37" fill="#fcfbe8"/>
<rect x="322.10" y="368.40" width="16.92" height="47.05" fill="#fcc7dc"/>
<rect x="322.10" y="415.45" width="16.92" height="15.68" fill="#fcfbe8"/>
<rect x="322.10" y="431.13" width="16.92" height="31.37" fill="#fcc7dc"/>
<rect x="339.00" y="368.40" width="1.22" height="47.05" fill="#e4b4e2"/>
<rect x="339.00" y="415.45" width="1.22" height="15.68" fill="#fcfbe8"/>
<rect x="339.00" y="431.13" width="1.22" height="31.37" fill="#e4b4e2"/>
<rect x="340.20" y="368.40" width="4.32" height="47.05" fill="#fcc7dc"/>
<rect x="340.20" y="415.45" width="4.32" height="15.68" fill="#fcfbe8"/>
<rect x="340.20" y="431.13" width="4.32" height="31.37" fill="#fcc7dc"/>
<rect x="344.50" y="368.40" width="1.22" height="47.05" fill="#f052d2"/>
<rect x="344.50" y="415.45" width="1.22" height="15.68" fill="#fcfbe8"/>
<rect x="344.50" y="431.13" width="1.22" height="31.37" fill="#f052d2"/>
<rect x="345.70" y="368.40" width="16.12" height="47.05" fill="#fcc7dc"/>
<rect x="345.70" y="415.45" width="16.12" height="15.68" fill="#fcfbe8"/>
<rect x="345.70" y="431.13" width="16.12" height="31.37" fill="#fcc7dc"/>
<rect x="361.80" y="368.40" width="12.02" height="47.05" fill="#fcc7dc"/>
<rect x="361.80" y="415.45" width="12.02" height="31.37" fill="#fcfbe8"/>
<rect x="361.80" y="446.82" width="12.02" height="15.68" fill="#fcc7dc"/>
<rect x="373.80" y="368.40" width="1.22" height="47.05" fill="#f052d2"/>
<rect x="373.80" y="415.45" width="1.22" height="31.37" fill="#fcfbe8"/>
<rect x="373.80" y="446.82" width="1.22" height="15.68" fill="#f052d2"/>
<rect x="375.00" y="368.40" width="1.02" height="47.05" fill="#fcc7dc"/>
<rect x="375.00" y="415.45" width="1.02" height="31.37" fill="#fcfbe8"/>
<rect x="375.00" y="446.82" width="1.02" height="15.68" fill="#fcc7dc"/>
<rect x="376.00" y="368.40" width="1.02" height="47.05" fill="#e4b4e2"/>
<rect x="376.00" y="415.45" width="1.02" height="31.37" fill="#fcfbe8"/>
<rect x="376.00" y="446.82" width="1.02" height="15.68" fill="#e4b4e2"/>
<rect x="377.00" y="368.40" width="5.02" height="47.05" fill="#fcc7dc"/>
<rect x="377.00" y="415.45" width="5.02" height="31.37" fill="#fcfbe8"/>
<rect x="377.00" y="446.82" width="5.02" height="15.68" fill="#fcc7dc"/>
<rect x="382.00" y="368.40" width="1.02" height="47.05" fill="#f893d6"/>
<rect x="382.00" y="415.45" width="1.02" height="31.37" fill="#fcfbe8"/>
<rect x="382.00" y="446.82" width="1.02" height="15.68" fill="#f893d6"/>
<rect x="383.00" y="368.40" width="15.42" height="47.05" fill="#fcc7dc"/>
<rect x="383.00" y="415.45" width="15.42" height="31.37" fill="#fcfbe8"/>
<rect x="383.00" y="446.82" width="15.42" height="15.68" fill="#fcc7dc"/>
<rect x="398.40" y="368.40" width="0.62" height="47.05" fill="#fcc7dc"/>
<rect x="398.40" y="415.45" width="0.62" height="15.68" fill="#fcfbe8"/>
<rect x="398.40" y="431.13" width="0.62" height="15.68" fill="#fcc7dc"/>
<rect x="398.40" y="446.82" width="0.62" height="15.68" fill="#fcfbe8"/>
<rect x="399.00" y="368.40" width="1.02" height="47.05" fill="#e4b4e2"/>
<rect x="399.00" y="415.45" width="1.02" height="15.68" fill="#fcfbe8"/>
<rect x="399.00" y="431.13" width="1.02" height="15.68" fill="#e4b4e2"/>
<rect x="399.00" y="446.82" width="1.02" height="15.68" fill="#fcfbe8"/>
<rect x="400.00" y="368.40" width="7.02" height="47.05" fill="#fcc7dc"/>
<rect x="400.00" y="415.45" width="7.02" height="15.68" fill="#fcfbe8"/>
<rect x="400.00" y="431.13" width="7.02" height="15.68" fill="#fcc7dc"/>
<rect x="400.00" y="446.82" width="7.02" height="15.68" fill="#fcfbe8"/>
<rect x="407.00" y="368.40" width="1.02" height="47.05" fill="#f052d2"/>
<rect x="407.00" y="415.45" width="1.02" height="15.68" fill="#fcfbe8"/>
<rect x="407.00" y="431.13" width="1.02" height="15.68" fill="#f052d2"/>
<rect x="407.00" y="446.82" width="1.02" height="15.68" fill="#fcfbe8"/>
<rect x="408.00" y="368.40" width="1.82" height="47.05" fill="#fcc7dc"/>
<rect x="408.00" y="415.45" width="1.82" height="15.68" fill="#fcfbe8"/>
<rect x="408.00" y="431.13" width="1.82" height="15.68" fill="#fcc7dc"/>
<rect x="408.00" y="446.82" width="1.82" height="15.68" fill="#fcfbe8"/>
<rect x="409.80" y="368.40" width="1.42" height="47.05" fill="#5a70a8"/>
<rect x="409.80" y="415.45" width="1.42" height="15.68" fill="#fcfbe8"/>
<rect x="409.80" y="431.13" width="1.42" height="15.68" fill="#5a70a8"/>
<rect x="409.80" y="446.82" width="1.42" height="15.68" fill="#fcfbe8"/>
<rect x="411.20" y="368.40" width="1.82" height="47.05" fill="#fcc7dc"/>
<rect x="411.20" y="415.45" width="1.82" height="15.68" fill="#fcfbe8"/>
<rect x="411.20" y="431.13" width="1.82" height="15.68" fill="#fcc7dc"/>
<rect x="411.20" y="446.82" width="1.82" height="15.68" fill="#fcfbe8"/>
<rect x="413.00" y="368.40" width="1.02" height="47.05" fill="#e4b4e2"/>
<rect x="413.00" y="415.45" width="1.02" height="15.68" fill="#fcfbe8"/>
<rect x="413.00" y="431.13" width="1.02" height="15.68" fill="#e4b4e2"/>
<rect x="413.00" y="446.82" width="1.02" height="15.68" fill="#fcfbe8"/>
<rect x="414.00" y="368.40" width="7.02" height="47.05" fill="#fcc7dc"/>
<rect x="414.00" y="415.45" width="7.02" height="15.68" fill="#fcfbe8"/>
<rect x="414.00" y="431.13" width="7.02" height="15.68" fill="#fcc7dc"/>
<rect x="414.00" y="446.82" width="7.02" height="15.68" fill="#fcfbe8"/>
<rect x="421.00" y="368.40" width="1.02" height="47.05" fill="#e4b4e2"/>
<rect x="421.00" y="415.45" width="1.02" height="15.68" fill="#fcfbe8"/>
<rect x="421.00" y="431.13" width="1.02" height="15.68" fill="#e4b4e2"/>
<rect x="421.00" y="446.82" width="1.02" height="15.68" fill="#fcfbe8"/>
<rect x="422.00" y="368.40" width="4.72" height="47.05" fill="#fcc7dc"/>
<rect x="422.00" y="415.45" width="4.72" height="15.68" fill="#fcfbe8"/>
<rect x="422.00" y="431.13" width="4.72" height="15.68" fill="#fcc7dc"/>
<rect x="422.00" y="446.82" width="4.72" height="15.68" fill="#fcfbe8"/>
<rect x="426.70" y="368.40" width="0.62" height="47.05" fill="#fcc7dc"/>
<rect x="426.70" y="415.45" width="0.62" height="47.05" fill="#fcfbe8"/>
<rect x="427.30" y="368.40" width="1.02" height="47.05" fill="#e4b4e2"/>
<rect x="427.30" y="415.45" width="1.02" height="47.05" fill="#fcfbe8"/>
<rect x="428.30" y="368.40" width="16.72" height="47.05" fill="#fcc7dc"/>
<rect x="428.30" y="415.45" width="16.72" height="47.05" fill="#fcfbe8"/>
<rect x="445.00" y="368.40" width="1.32" height="47.05" fill="#f052d2"/>
<rect x="445.00" y="415.45" width="1.32" height="47.05" fill="#fcfbe8"/>
<rect x="446.30" y="368.40" width="5.92" height="47.05" fill="#fcc7dc"/>
<rect x="446.30" y="415.45" width="5.92" height="47.05" fill="#fcfbe8"/>
<rect x="452.20" y="368.40" width="1.02" height="47.05" fill="#e4b4e2"/>
<rect x="452.20" y="415.45" width="1.02" height="47.05" fill="#fcfbe8"/>
<rect x="453.20" y="368.40" width="1.12" height="47.05" fill="#fcc7dc"/>
<rect x="453.20" y="415.45" width="1.12" height="47.05" fill="#fcfbe8"/>
<rect x="454.30" y="368.40" width="1.02" height="47.05" fill="#e4b4e2"/>
<rect x="454.30" y="415.45" width="1.02" height="47.05" fill="#fcfbe8"/>
<rect x="455.30" y="368.40" width="9.22" height="47.05" fill="#fcc7dc"/>
<rect x="455.30" y="415.45" width="9.22" height="47.05" fill="#fcfbe8"/>
<rect x="464.50" y="368.40" width="1.32" height="47.05" fill="#f052d2"/>
<rect x="464.50" y="415.45" width="1.32" height="47.05" fill="#fcfbe8"/>
<rect x="465.80" y="368.40" width="15.72" height="47.05" fill="#fcc7dc"/>
<rect x="465.80" y="415.45" width="15.72" height="47.05" fill="#fcfbe8"/>
<path d="M268.52 368.4V462.5M270.64 368.4V462.5M272.76 368.4V462.5M274.88 368.4V462.5M277.00 368.4V462.5M279.12 368.4V462.5M281.24 368.4V462.5M283.36 368.4V462.5M285.48 368.4V462.5M287.60 368.4V462.5M289.72 368.4V462.5M291.84 368.4V462.5M293.96 368.4V462.5M296.08 368.4V462.5M298.20 368.4V462.5M300.32 368.4V462.5M302.44 368.4V462.5M304.56 368.4V462.5M306.68 368.4V462.5M308.80 368.4V462.5M310.92 368.4V462.5M313.04 368.4V462.5M315.16 368.4V462.5M317.28 368.4V462.5M319.40 368.4V462.5M321.52 368.4V462.5M323.64 368.4V462.5M325.76 368.4V462.5M327.88 368.4V462.5M330.00 368.4V462.5M332.12 368.4V462.5M334.24 368.4V462.5M336.36 368.4V462.5M338.48 368.4V462.5M340.60 368.4V462.5M342.72 368.4V462.5M344.84 368.4V462.5M346.96 368.4V462.5M349.08 368.4V462.5M351.20 368.4V462.5M353.32 368.4V462.5M355.44 368.4V462.5M357.56 368.4V462.5M359.68 368.4V462.5M361.80 368.4V462.5M363.92 368.4V462.5M366.04 368.4V462.5M368.16 368.4V462.5M370.28 368.4V462.5M372.40 368.4V462.5M374.52 368.4V462.5M376.64 368.4V462.5M378.76 368.4V462.5M380.88 368.4V462.5M383.00 368.4V462.5M385.12 368.4V462.5M387.24 368.4V462.5M389.36 368.4V462.5M391.48 368.4V462.5M393.60 368.4V462.5M395.72 368.4V462.5M397.84 368.4V462.5M399.96 368.4V462.5M402.08 368.4V462.5M404.20 368.4V462.5M406.32 368.4V462.5M408.44 368.4V462.5M410.56 368.4V462.5M412.68 368.4V462.5M414.80 368.4V462.5M416.92 368.4V462.5M419.04 368.4V462.5M421.16 368.4V462.5M423.28 368.4V462.5M425.40 368.4V462.5M427.52 368.4V462.5M429.64 368.4V462.5M431.76 368.4V462.5M433.88 368.4V462.5M436.00 368.4V462.5M438.12 368.4V462.5M440.24 368.4V462.5M442.36 368.4V462.5M444.48 368.4V462.5M446.60 368.4V462.5M448.72 368.4V462.5M450.84 368.4V462.5M452.96 368.4V462.5M455.08 368.4V462.5M457.20 368.4V462.5M459.32 368.4V462.5M461.44 368.4V462.5M463.56 368.4V462.5M465.68 368.4V462.5M467.80 368.4V462.5M469.92 368.4V462.5M472.04 368.4V462.5M474.16 368.4V462.5M476.28 368.4V462.5M478.40 368.4V462.5M480.52 368.4V462.5" stroke="#9a9a90" stroke-width="0.35" opacity="0.22" fill="none"/>
<path d="M266.4 384.08H481.5M266.4 399.77H481.5M266.4 415.45H481.5M266.4 431.13H481.5M266.4 446.82H481.5" stroke="#9a9a90" stroke-width="0.35" opacity="0.22" fill="none"/>
<rect x="266.40" y="368.40" width="215.10" height="94.10" fill="none" stroke="#222" stroke-width="1.0"/>
<rect x="266.60" y="474.20" width="3.42" height="29.50" fill="#a6d0f0"/>
<rect x="270.00" y="474.20" width="5.02" height="29.50" fill="#f8f7d2"/>
<rect x="275.00" y="474.20" width="2.82" height="29.50" fill="#f8ee1e"/>
<rect x="277.80" y="474.20" width="5.02" height="29.50" fill="#f8f7d2"/>
<rect x="282.80" y="474.20" width="5.62" height="29.50" fill="#d2e2e4"/>
<rect x="288.40" y="474.20" width="5.02" height="29.50" fill="#f8f7d2"/>
<rect x="293.40" y="474.20" width="8.52" height="29.50" fill="#f8ee1e"/>
<rect x="301.90" y="474.20" width="2.92" height="29.50" fill="#2090e8"/>
<rect x="304.80" y="474.20" width="8.52" height="29.50" fill="#d2e2e4"/>
<rect x="313.30" y="474.20" width="9.92" height="29.50" fill="#f8ee1e"/>
<rect x="323.20" y="474.20" width="8.62" height="29.50" fill="#a6d0f0"/>
<rect x="331.80" y="474.20" width="2.22" height="29.50" fill="#f8f7d2"/>
<rect x="334.00" y="474.20" width="6.82" height="14.75" fill="#f8f7d2"/>
<rect x="334.00" y="488.95" width="6.82" height="14.75" fill="#fcfcee"/>
<rect x="340.80" y="474.20" width="4.22" height="14.75" fill="#f8f7d2"/>
<rect x="340.80" y="488.95" width="4.22" height="14.75" fill="#fcfcee"/>
<rect x="345.00" y="474.20" width="3.52" height="14.75" fill="#f8ee1e"/>
<rect x="345.00" y="488.95" width="3.52" height="14.75" fill="#fcfcee"/>
<rect x="348.50" y="474.20" width="2.12" height="14.75" fill="#f8f7d2"/>
<rect x="348.50" y="488.95" width="2.12" height="14.75" fill="#fcfcee"/>
<rect x="350.60" y="474.20" width="2.82" height="14.75" fill="#f8ee1e"/>
<rect x="350.60" y="488.95" width="2.82" height="14.75" fill="#fcfcee"/>
<rect x="353.40" y="474.20" width="2.82" height="14.75" fill="#f8f7d2"/>
<rect x="353.40" y="488.95" width="2.82" height="14.75" fill="#fcfcee"/>
<rect x="356.20" y="474.20" width="2.82" height="14.75" fill="#f8ee1e"/>
<rect x="356.20" y="488.95" width="2.82" height="14.75" fill="#fcfcee"/>
<rect x="359.00" y="474.20" width="2.12" height="14.75" fill="#f8f7d2"/>
<rect x="359.00" y="488.95" width="2.12" height="14.75" fill="#fcfcee"/>
<rect x="361.10" y="474.20" width="2.82" height="14.75" fill="#f8ee1e"/>
<rect x="361.10" y="488.95" width="2.82" height="14.75" fill="#fcfcee"/>
<rect x="363.90" y="474.20" width="2.82" height="14.75" fill="#f8f7d2"/>
<rect x="363.90" y="488.95" width="2.82" height="14.75" fill="#fcfcee"/>
<rect x="366.70" y="474.20" width="2.82" height="14.75" fill="#f8ee1e"/>
<rect x="366.70" y="488.95" width="2.82" height="14.75" fill="#fcfcee"/>
<rect x="369.50" y="474.20" width="2.82" height="14.75" fill="#f8f7d2"/>
<rect x="369.50" y="488.95" width="2.82" height="14.75" fill="#fcfcee"/>
<rect x="372.30" y="474.20" width="7.72" height="14.75" fill="#f8ee1e"/>
<rect x="372.30" y="488.95" width="7.72" height="14.75" fill="#fcfcee"/>
<rect x="380.00" y="474.20" width="2.82" height="14.75" fill="#f8f7d2"/>
<rect x="380.00" y="488.95" width="2.82" height="14.75" fill="#fcfcee"/>
<rect x="382.80" y="474.20" width="8.42" height="14.75" fill="#f8ee1e"/>
<rect x="382.80" y="488.95" width="8.42" height="14.75" fill="#fcfcee"/>
<rect x="391.20" y="474.20" width="2.82" height="14.75" fill="#f8f7d2"/>
<rect x="391.20" y="488.95" width="2.82" height="14.75" fill="#fcfcee"/>
<rect x="394.00" y="474.20" width="7.02" height="14.75" fill="#a6d0f0"/>
<rect x="394.00" y="488.95" width="7.02" height="14.75" fill="#fcfcee"/>
<rect x="401.00" y="474.20" width="3.52" height="14.75" fill="#d2e2e4"/>
<rect x="401.00" y="488.95" width="3.52" height="14.75" fill="#fcfcee"/>
<rect x="404.50" y="474.20" width="4.52" height="14.75" fill="#f8ee1e"/>
<rect x="404.50" y="488.95" width="4.52" height="14.75" fill="#fcfcee"/>
<rect x="409.00" y="474.20" width="1.02" height="14.75" fill="#f8f7d2"/>
<rect x="409.00" y="488.95" width="1.02" height="14.75" fill="#fcfcee"/>
<rect x="410.00" y="474.20" width="4.22" height="14.75" fill="#f8ee1e"/>
<rect x="410.00" y="488.95" width="4.22" height="14.75" fill="#fcfcee"/>
<rect x="414.20" y="474.20" width="3.52" height="14.75" fill="#f8f7d2"/>
<rect x="414.20" y="488.95" width="3.52" height="14.75" fill="#fcfcee"/>
<rect x="417.70" y="474.20" width="5.62" height="14.75" fill="#d2e2e4"/>
<rect x="417.70" y="488.95" width="5.62" height="14.75" fill="#fcfcee"/>
<rect x="423.30" y="474.20" width="4.92" height="14.75" fill="#a6d0f0"/>
<rect x="423.30" y="488.95" width="4.92" height="14.75" fill="#fcfcee"/>
<rect x="428.20" y="474.20" width="2.82" height="14.75" fill="#f8ee1e"/>
<rect x="428.20" y="488.95" width="2.82" height="14.75" fill="#fcfcee"/>
<rect x="431.00" y="474.20" width="5.62" height="14.75" fill="#d2e2e4"/>
<rect x="431.00" y="488.95" width="5.62" height="14.75" fill="#fcfcee"/>
<rect x="436.60" y="474.20" width="2.82" height="14.75" fill="#f8ee1e"/>
<rect x="436.60" y="488.95" width="2.82" height="14.75" fill="#fcfcee"/>
<rect x="439.40" y="474.20" width="2.12" height="14.75" fill="#2090e8"/>
<rect x="439.40" y="488.95" width="2.12" height="14.75" fill="#fcfcee"/>
<rect x="441.50" y="474.20" width="3.52" height="14.75" fill="#f8ee1e"/>
<rect x="441.50" y="488.95" width="3.52" height="14.75" fill="#fcfcee"/>
<rect x="445.00" y="474.20" width="7.02" height="14.75" fill="#d2e2e4"/>
<rect x="445.00" y="488.95" width="7.02" height="14.75" fill="#fcfcee"/>
<rect x="452.00" y="474.20" width="3.52" height="14.75" fill="#f8ee1e"/>
<rect x="452.00" y="488.95" width="3.52" height="14.75" fill="#fcfcee"/>
<rect x="455.50" y="474.20" width="2.82" height="14.75" fill="#f8f7d2"/>
<rect x="455.50" y="488.95" width="2.82" height="14.75" fill="#fcfcee"/>
<rect x="458.30" y="474.20" width="2.82" height="14.75" fill="#a6d0f0"/>
<rect x="458.30" y="488.95" width="2.82" height="14.75" fill="#fcfcee"/>
<rect x="461.10" y="474.20" width="2.82" height="14.75" fill="#f8f7d2"/>
<rect x="461.10" y="488.95" width="2.82" height="14.75" fill="#fcfcee"/>
<rect x="463.90" y="474.20" width="4.22" height="14.75" fill="#f8ee1e"/>
<rect x="463.90" y="488.95" width="4.22" height="14.75" fill="#fcfcee"/>
<rect x="468.10" y="474.20" width="3.52" height="14.75" fill="#a6d0f0"/>
<rect x="468.10" y="488.95" width="3.52" height="14.75" fill="#fcfcee"/>
<rect x="471.60" y="474.20" width="2.82" height="14.75" fill="#f8f7d2"/>
<rect x="471.60" y="488.95" width="2.82" height="14.75" fill="#fcfcee"/>
<rect x="474.40" y="474.20" width="2.62" height="14.75" fill="#f8ee1e"/>
<rect x="474.40" y="488.95" width="2.62" height="14.75" fill="#fcfcee"/>
<rect x="477.00" y="474.20" width="5.42" height="14.75" fill="#d2e2e4"/>
<rect x="477.00" y="488.95" width="5.42" height="14.75" fill="#fcfcee"/>
<path d="M268.72 474.2V503.7M270.84 474.2V503.7M272.96 474.2V503.7M275.08 474.2V503.7M277.20 474.2V503.7M279.32 474.2V503.7M281.44 474.2V503.7M283.56 474.2V503.7M285.68 474.2V503.7M287.80 474.2V503.7M289.92 474.2V503.7M292.04 474.2V503.7M294.16 474.2V503.7M296.28 474.2V503.7M298.40 474.2V503.7M300.52 474.2V503.7M302.64 474.2V503.7M304.76 474.2V503.7M306.88 474.2V503.7M309.00 474.2V503.7M311.12 474.2V503.7M313.24 474.2V503.7M315.36 474.2V503.7M317.48 474.2V503.7M319.60 474.2V503.7M321.72 474.2V503.7M323.84 474.2V503.7M325.96 474.2V503.7M328.08 474.2V503.7M330.20 474.2V503.7M332.32 474.2V503.7M334.44 474.2V503.7M336.56 474.2V503.7M338.68 474.2V503.7M340.80 474.2V503.7M342.92 474.2V503.7M345.04 474.2V503.7M347.16 474.2V503.7M349.28 474.2V503.7M351.40 474.2V503.7M353.52 474.2V503.7M355.64 474.2V503.7M357.76 474.2V503.7M359.88 474.2V503.7M362.00 474.2V503.7M364.12 474.2V503.7M366.24 474.2V503.7M368.36 474.2V503.7M370.48 474.2V503.7M372.60 474.2V503.7M374.72 474.2V503.7M376.84 474.2V503.7M378.96 474.2V503.7M381.08 474.2V503.7M383.20 474.2V503.7M385.32 474.2V503.7M387.44 474.2V503.7M389.56 474.2V503.7M391.68 474.2V503.7M393.80 474.2V503.7M395.92 474.2V503.7M398.04 474.2V503.7M400.16 474.2V503.7M402.28 474.2V503.7M404.40 474.2V503.7M406.52 474.2V503.7M408.64 474.2V503.7M410.76 474.2V503.7M412.88 474.2V503.7M415.00 474.2V503.7M417.12 474.2V503.7M419.24 474.2V503.7M421.36 474.2V503.7M423.48 474.2V503.7M425.60 474.2V503.7M427.72 474.2V503.7M429.84 474.2V503.7M431.96 474.2V503.7M434.08 474.2V503.7M436.20 474.2V503.7M438.32 474.2V503.7M440.44 474.2V503.7M442.56 474.2V503.7M444.68 474.2V503.7M446.80 474.2V503.7M448.92 474.2V503.7M451.04 474.2V503.7M453.16 474.2V503.7M455.28 474.2V503.7M457.40 474.2V503.7M459.52 474.2V503.7M461.64 474.2V503.7M463.76 474.2V503.7M465.88 474.2V503.7M468.00 474.2V503.7M470.12 474.2V503.7M472.24 474.2V503.7M474.36 474.2V503.7M476.48 474.2V503.7M478.60 474.2V503.7M480.72 474.2V503.7" stroke="#9a9a90" stroke-width="0.35" opacity="0.22" fill="none"/>
<path d="M266.6 488.95H482.4" stroke="#9a9a90" stroke-width="0.35" opacity="0.22" fill="none"/>
<rect x="266.60" y="474.20" width="215.80" height="29.50" fill="none" stroke="#222" stroke-width="1.0"/>
<rect x="266.60" y="505.60" width="4.12" height="29.60" fill="#fbfbc6"/>
<rect x="270.70" y="505.60" width="2.82" height="29.60" fill="#f6ef4e"/>
<rect x="273.50" y="505.60" width="28.52" height="29.60" fill="#fbfbc6"/>
<rect x="302.00" y="505.60" width="2.82" height="29.60" fill="#d2e2e4"/>
<rect x="304.80" y="505.60" width="1.42" height="29.60" fill="#fbfbc6"/>
<rect x="306.20" y="505.60" width="1.42" height="29.60" fill="#74b4a4"/>
<rect x="307.60" y="505.60" width="5.02" height="29.60" fill="#fbfbc6"/>
<rect x="312.60" y="505.60" width="2.12" height="29.60" fill="#74b4a4"/>
<rect x="314.70" y="505.60" width="12.82" height="29.60" fill="#fbfbc6"/>
<rect x="327.50" y="505.60" width="4.32" height="29.60" fill="#f6ef4e"/>
<rect x="331.80" y="505.60" width="18.82" height="29.60" fill="#fbfbc6"/>
<rect x="350.60" y="505.60" width="1.42" height="29.60" fill="#d2e2e4"/>
<rect x="352.00" y="505.60" width="7.02" height="29.60" fill="#fbfbc6"/>
<rect x="359.00" y="505.60" width="1.42" height="14.80" fill="#fbfbc6"/>
<rect x="359.00" y="520.40" width="1.42" height="14.80" fill="#fcfcee"/>
<rect x="360.40" y="505.60" width="2.12" height="14.80" fill="#f6ef4e"/>
<rect x="360.40" y="520.40" width="2.12" height="14.80" fill="#fcfcee"/>
<rect x="362.50" y="505.60" width="7.02" height="14.80" fill="#fbfbc6"/>
<rect x="362.50" y="520.40" width="7.02" height="14.80" fill="#fcfcee"/>
<rect x="369.50" y="505.60" width="1.42" height="14.80" fill="#d2e2e4"/>
<rect x="369.50" y="520.40" width="1.42" height="14.80" fill="#fcfcee"/>
<rect x="370.90" y="505.60" width="2.12" height="14.80" fill="#fbfbc6"/>
<rect x="370.90" y="520.40" width="2.12" height="14.80" fill="#fcfcee"/>
<rect x="373.00" y="505.60" width="1.42" height="14.80" fill="#f6ef4e"/>
<rect x="373.00" y="520.40" width="1.42" height="14.80" fill="#fcfcee"/>
<rect x="374.40" y="505.60" width="4.22" height="14.80" fill="#fbfbc6"/>
<rect x="374.40" y="520.40" width="4.22" height="14.80" fill="#fcfcee"/>
<rect x="378.60" y="505.60" width="1.42" height="14.80" fill="#f6ef4e"/>
<rect x="378.60" y="520.40" width="1.42" height="14.80" fill="#fcfcee"/>
<rect x="380.00" y="505.60" width="7.02" height="14.80" fill="#fbfbc6"/>
<rect x="380.00" y="520.40" width="7.02" height="14.80" fill="#fcfcee"/>
<rect x="387.00" y="505.60" width="2.12" height="14.80" fill="#f6ef4e"/>
<rect x="387.00" y="520.40" width="2.12" height="14.80" fill="#fcfcee"/>
<rect x="389.10" y="505.60" width="10.52" height="14.80" fill="#fbfbc6"/>
<rect x="389.10" y="520.40" width="10.52" height="14.80" fill="#fcfcee"/>
<rect x="399.60" y="505.60" width="4.22" height="14.80" fill="#f6ef4e"/>
<rect x="399.60" y="520.40" width="4.22" height="14.80" fill="#fcfcee"/>
<rect x="403.80" y="505.60" width="9.02" height="14.80" fill="#fbfbc6"/>
<rect x="403.80" y="520.40" width="9.02" height="14.80" fill="#fcfcee"/>
<rect x="412.80" y="505.60" width="4.22" height="14.80" fill="#f6ef4e"/>
<rect x="412.80" y="520.40" width="4.22" height="14.80" fill="#fcfcee"/>
<rect x="417.00" y="505.60" width="1.42" height="14.80" fill="#fbfbc6"/>
<rect x="417.00" y="520.40" width="1.42" height="14.80" fill="#fcfcee"/>
<rect x="418.40" y="505.60" width="2.82" height="14.80" fill="#f6ef4e"/>
<rect x="418.40" y="520.40" width="2.82" height="14.80" fill="#fcfcee"/>
<rect x="421.20" y="505.60" width="9.12" height="14.80" fill="#fbfbc6"/>
<rect x="421.20" y="520.40" width="9.12" height="14.80" fill="#fcfcee"/>
<rect x="430.30" y="505.60" width="2.12" height="14.80" fill="#f6ef4e"/>
<rect x="430.30" y="520.40" width="2.12" height="14.80" fill="#fcfcee"/>
<rect x="432.40" y="505.60" width="2.82" height="14.80" fill="#fbfbc6"/>
<rect x="432.40" y="520.40" width="2.82" height="14.80" fill="#fcfcee"/>
<rect x="435.20" y="505.60" width="5.62" height="14.80" fill="#f6ef4e"/>
<rect x="435.20" y="520.40" width="5.62" height="14.80" fill="#fcfcee"/>
<rect x="440.80" y="505.60" width="1.42" height="14.80" fill="#fbfbc6"/>
<rect x="440.80" y="520.40" width="1.42" height="14.80" fill="#fcfcee"/>
<rect x="442.20" y="505.60" width="4.22" height="14.80" fill="#f6ef4e"/>
<rect x="442.20" y="520.40" width="4.22" height="14.80" fill="#fcfcee"/>
<rect x="446.40" y="505.60" width="4.22" height="14.80" fill="#fbfbc6"/>
<rect x="446.40" y="520.40" width="4.22" height="14.80" fill="#fcfcee"/>
<rect x="450.60" y="505.60" width="1.42" height="14.80" fill="#f6ef4e"/>
<rect x="450.60" y="520.40" width="1.42" height="14.80" fill="#fcfcee"/>
<rect x="452.00" y="505.60" width="4.22" height="14.80" fill="#fbfbc6"/>
<rect x="452.00" y="520.40" width="4.22" height="14.80" fill="#fcfcee"/>
<rect x="456.20" y="505.60" width="1.42" height="14.80" fill="#f6ef4e"/>
<rect x="456.20" y="520.40" width="1.42" height="14.80" fill="#fcfcee"/>
<rect x="457.60" y="505.60" width="14.02" height="14.80" fill="#fbfbc6"/>
<rect x="457.60" y="520.40" width="14.02" height="14.80" fill="#fcfcee"/>
<rect x="471.60" y="505.60" width="2.82" height="14.80" fill="#f6ef4e"/>
<rect x="471.60" y="520.40" width="2.82" height="14.80" fill="#fcfcee"/>
<rect x="474.40" y="505.60" width="8.02" height="14.80" fill="#fbfbc6"/>
<rect x="474.40" y="520.40" width="8.02" height="14.80" fill="#fcfcee"/>
<path d="M268.72 505.6V535.2M270.84 505.6V535.2M272.96 505.6V535.2M275.08 505.6V535.2M277.20 505.6V535.2M279.32 505.6V535.2M281.44 505.6V535.2M283.56 505.6V535.2M285.68 505.6V535.2M287.80 505.6V535.2M289.92 505.6V535.2M292.04 505.6V535.2M294.16 505.6V535.2M296.28 505.6V535.2M298.40 505.6V535.2M300.52 505.6V535.2M302.64 505.6V535.2M304.76 505.6V535.2M306.88 505.6V535.2M309.00 505.6V535.2M311.12 505.6V535.2M313.24 505.6V535.2M315.36 505.6V535.2M317.48 505.6V535.2M319.60 505.6V535.2M321.72 505.6V535.2M323.84 505.6V535.2M325.96 505.6V535.2M328.08 505.6V535.2M330.20 505.6V535.2M332.32 505.6V535.2M334.44 505.6V535.2M336.56 505.6V535.2M338.68 505.6V535.2M340.80 505.6V535.2M342.92 505.6V535.2M345.04 505.6V535.2M347.16 505.6V535.2M349.28 505.6V535.2M351.40 505.6V535.2M353.52 505.6V535.2M355.64 505.6V535.2M357.76 505.6V535.2M359.88 505.6V535.2M362.00 505.6V535.2M364.12 505.6V535.2M366.24 505.6V535.2M368.36 505.6V535.2M370.48 505.6V535.2M372.60 505.6V535.2M374.72 505.6V535.2M376.84 505.6V535.2M378.96 505.6V535.2M381.08 505.6V535.2M383.20 505.6V535.2M385.32 505.6V535.2M387.44 505.6V535.2M389.56 505.6V535.2M391.68 505.6V535.2M393.80 505.6V535.2M395.92 505.6V535.2M398.04 505.6V535.2M400.16 505.6V535.2M402.28 505.6V535.2M404.40 505.6V535.2M406.52 505.6V535.2M408.64 505.6V535.2M410.76 505.6V535.2M412.88 505.6V535.2M415.00 505.6V535.2M417.12 505.6V535.2M419.24 505.6V535.2M421.36 505.6V535.2M423.48 505.6V535.2M425.60 505.6V535.2M427.72 505.6V535.2M429.84 505.6V535.2M431.96 505.6V535.2M434.08 505.6V535.2M436.20 505.6V535.2M438.32 505.6V535.2M440.44 505.6V535.2M442.56 505.6V535.2M444.68 505.6V535.2M446.80 505.6V535.2M448.92 505.6V535.2M451.04 505.6V535.2M453.16 505.6V535.2M455.28 505.6V535.2M457.40 505.6V535.2M459.52 505.6V535.2M461.64 505.6V535.2M463.76 505.6V535.2M465.88 505.6V535.2M468.00 505.6V535.2M470.12 505.6V535.2M472.24 505.6V535.2M474.36 505.6V535.2M476.48 505.6V535.2M478.60 505.6V535.2M480.72 505.6V535.2" stroke="#9a9a90" stroke-width="0.35" opacity="0.22" fill="none"/>
<path d="M266.6 520.40H482.4" stroke="#9a9a90" stroke-width="0.35" opacity="0.22" fill="none"/>
<rect x="266.60" y="505.60" width="215.80" height="29.60" fill="none" stroke="#222" stroke-width="1.0"/>
<defs><linearGradient id="gCa" x1="0" y1="0" x2="0" y2="1"><stop offset="0" stop-color="#00e63c"/><stop offset="0.096" stop-color="#08e642"/><stop offset="0.347" stop-color="#48de70"/><stop offset="0.478" stop-color="#b8ecb4"/><stop offset="0.596" stop-color="#f4f4ec"/><stop offset="0.71" stop-color="#d0d0f0"/><stop offset="0.836" stop-color="#8c8cee"/><stop offset="1" stop-color="#4646ec"/></linearGradient></defs><rect x="491" y="16.5" width="7.5" height="238.2" fill="url(#gCa)" stroke="#222" stroke-width="0.8"/>
<defs><linearGradient id="gCb" x1="0" y1="0" x2="0" y2="1"><stop offset="0" stop-color="#ec1ecc"/><stop offset="0.154" stop-color="#ee4ccf"/><stop offset="0.3" stop-color="#f6a0dc"/><stop offset="0.426" stop-color="#fbf6e6"/><stop offset="0.55" stop-color="#9cd4cc"/><stop offset="0.688" stop-color="#28a4ac"/><stop offset="1" stop-color="#0f6e80"/></linearGradient></defs><rect x="493.4" y="270.6" width="6.100000000000023" height="191.59999999999997" fill="url(#gCb)" stroke="#222" stroke-width="0.8"/>
<defs><linearGradient id="gCc" x1="0" y1="0" x2="0" y2="1"><stop offset="0" stop-color="#ffe800"/><stop offset="0.052" stop-color="#fbe810"/><stop offset="0.459" stop-color="#f6f6e6"/><stop offset="0.7" stop-color="#90c8ee"/><stop offset="0.826" stop-color="#48aaec"/><stop offset="1" stop-color="#1a96e8"/></linearGradient></defs><rect x="493.2" y="473.8" width="6.600000000000023" height="61.400000000000034" fill="url(#gCc)" stroke="#222" stroke-width="0.8"/>
<path d="M264.50 25.36h2M264.50 42.07h2M264.50 58.78h2M264.50 75.50h2M264.50 92.21h2M264.50 108.93h2M264.50 125.64h2" stroke="#222" stroke-width="0.8"/>
<path d="M264.50 145.91h2M264.50 162.72h2M264.50 179.53h2M264.50 196.35h2M264.50 213.16h2M264.50 229.98h2M264.50 246.79h2" stroke="#222" stroke-width="0.8"/>
<path d="M264.40 278.56h2M264.40 294.28h2M264.40 309.99h2M264.40 325.71h2M264.40 341.43h2M264.40 357.14h2" stroke="#222" stroke-width="0.8"/>
<path d="M264.40 376.24h2M264.40 391.92h2M264.40 407.61h2M264.40 423.29h2M264.40 438.97h2M264.40 454.66h2" stroke="#222" stroke-width="0.8"/>
<path d="M264.60 481.57h2M264.60 496.32h2" stroke="#222" stroke-width="0.8"/>
<path d="M264.60 513.00h2M264.60 527.80h2" stroke="#222" stroke-width="0.8"/>
<path d="M77.60 111.06h2M77.60 124.38h2M77.60 137.70h2M77.60 151.02h2M77.60 164.34h2" stroke="#222" stroke-width="0.8"/>
<line x1="491.10" y1="39.10" x2="492.30" y2="39.10" stroke="#222" stroke-width="0.9"/>
<line x1="497.30" y1="39.10" x2="498.50" y2="39.10" stroke="#222" stroke-width="0.9"/>
<text x="500.00" y="41.10" font-size="5.6" font-family="'Liberation Sans', Arial, sans-serif" font-weight="bold" fill="#1a1a1a" stroke="#1a1a1a" stroke-width="0.28" text-anchor="start">6</text>
<line x1="491.10" y1="98.70" x2="492.30" y2="98.70" stroke="#222" stroke-width="0.9"/>
<line x1="497.30" y1="98.70" x2="498.50" y2="98.70" stroke="#222" stroke-width="0.9"/>
<text x="500.00" y="100.70" font-size="5.6" font-family="'Liberation Sans', Arial, sans-serif" font-weight="bold" fill="#1a1a1a" stroke="#1a1a1a" stroke-width="0.28" text-anchor="start">3</text>
<line x1="491.10" y1="158.20" x2="492.30" y2="158.20" stroke="#222" stroke-width="0.9"/>
<line x1="497.30" y1="158.20" x2="498.50" y2="158.20" stroke="#222" stroke-width="0.9"/>
<text x="500.00" y="160.20" font-size="5.6" font-family="'Liberation Sans', Arial, sans-serif" font-weight="bold" fill="#1a1a1a" stroke="#1a1a1a" stroke-width="0.28" text-anchor="start">0</text>
<line x1="491.10" y1="216.40" x2="492.30" y2="216.40" stroke="#222" stroke-width="0.9"/>
<line x1="497.30" y1="216.40" x2="498.50" y2="216.40" stroke="#222" stroke-width="0.9"/>
<text x="498.30" y="218.40" font-size="5.6" font-family="'Liberation Sans', Arial, sans-serif" font-weight="bold" fill="#1a1a1a" stroke="#1a1a1a" stroke-width="0.28" text-anchor="start">-3</text>
<line x1="492.90" y1="300.20" x2="494.10" y2="300.20" stroke="#222" stroke-width="0.9"/>
<line x1="498.80" y1="300.20" x2="500.00" y2="300.20" stroke="#222" stroke-width="0.9"/>
<text x="502.00" y="302.20" font-size="5.6" font-family="'Liberation Sans', Arial, sans-serif" font-weight="bold" fill="#1a1a1a" stroke="#1a1a1a" stroke-width="0.28" text-anchor="start">4</text>
<line x1="492.90" y1="352.30" x2="494.10" y2="352.30" stroke="#222" stroke-width="0.9"/>
<line x1="498.80" y1="352.30" x2="500.00" y2="352.30" stroke="#222" stroke-width="0.9"/>
<text x="502.00" y="354.30" font-size="5.6" font-family="'Liberation Sans', Arial, sans-serif" font-weight="bold" fill="#1a1a1a" stroke="#1a1a1a" stroke-width="0.28" text-anchor="start">0</text>
<line x1="492.90" y1="402.40" x2="494.10" y2="402.40" stroke="#222" stroke-width="0.9"/>
<line x1="498.80" y1="402.40" x2="500.00" y2="402.40" stroke="#222" stroke-width="0.9"/>
<text x="500.30" y="404.40" font-size="5.6" font-family="'Liberation Sans', Arial, sans-serif" font-weight="bold" fill="#1a1a1a" stroke="#1a1a1a" stroke-width="0.28" text-anchor="start">-4</text>
<line x1="492.90" y1="453.00" x2="494.10" y2="453.00" stroke="#222" stroke-width="0.9"/>
<line x1="498.80" y1="453.00" x2="500.00" y2="453.00" stroke="#222" stroke-width="0.9"/>
<text x="500.30" y="455.00" font-size="5.6" font-family="'Liberation Sans', Arial, sans-serif" font-weight="bold" fill="#1a1a1a" stroke="#1a1a1a" stroke-width="0.28" text-anchor="start">-8</text>
<line x1="493.20" y1="477.00" x2="494.40" y2="477.00" stroke="#222" stroke-width="0.9"/>
<line x1="498.60" y1="477.00" x2="499.80" y2="477.00" stroke="#222" stroke-width="0.9"/>
<text x="501.00" y="479.00" font-size="5.6" font-family="'Liberation Sans', Arial, sans-serif" font-weight="bold" fill="#1a1a1a" stroke="#1a1a1a" stroke-width="0.28" text-anchor="start">6</text>
<line x1="493.20" y1="502.00" x2="494.40" y2="502.00" stroke="#222" stroke-width="0.9"/>
<line x1="498.60" y1="502.00" x2="499.80" y2="502.00" stroke="#222" stroke-width="0.9"/>
<text x="501.00" y="504.00" font-size="5.6" font-family="'Liberation Sans', Arial, sans-serif" font-weight="bold" fill="#1a1a1a" stroke="#1a1a1a" stroke-width="0.28" text-anchor="start">0</text>
<line x1="493.20" y1="524.50" x2="494.40" y2="524.50" stroke="#222" stroke-width="0.9"/>
<line x1="498.60" y1="524.50" x2="499.80" y2="524.50" stroke="#222" stroke-width="0.9"/>
<text x="499.30" y="526.50" font-size="5.6" font-family="'Liberation Sans', Arial, sans-serif" font-weight="bold" fill="#1a1a1a" stroke="#1a1a1a" stroke-width="0.28" text-anchor="start">-6</text>
<line x1="173.50" y1="114.50" x2="174.70" y2="114.50" stroke="#222" stroke-width="0.9"/>
<line x1="178.90" y1="114.50" x2="180.10" y2="114.50" stroke="#222" stroke-width="0.9"/>
<text x="181.20" y="116.50" font-size="5.4" font-family="'Liberation Sans', Arial, sans-serif" font-weight="bold" fill="#1a1a1a" stroke="#1a1a1a" stroke-width="0.28" text-anchor="start">6</text>
<line x1="173.50" y1="130.10" x2="174.70" y2="130.10" stroke="#222" stroke-width="0.9"/>
<line x1="178.90" y1="130.10" x2="180.10" y2="130.10" stroke="#222" stroke-width="0.9"/>
<text x="181.20" y="132.10" font-size="5.4" font-family="'Liberation Sans', Arial, sans-serif" font-weight="bold" fill="#1a1a1a" stroke="#1a1a1a" stroke-width="0.28" text-anchor="start">3</text>
<line x1="173.50" y1="145.30" x2="174.70" y2="145.30" stroke="#222" stroke-width="0.9"/>
<line x1="178.90" y1="145.30" x2="180.10" y2="145.30" stroke="#222" stroke-width="0.9"/>
<text x="181.20" y="147.30" font-size="5.4" font-family="'Liberation Sans', Arial, sans-serif" font-weight="bold" fill="#1a1a1a" stroke="#1a1a1a" stroke-width="0.28" text-anchor="start">0</text>
<line x1="173.50" y1="159.60" x2="174.70" y2="159.60" stroke="#222" stroke-width="0.9"/>
<line x1="178.90" y1="159.60" x2="180.10" y2="159.60" stroke="#222" stroke-width="0.9"/>
<text x="179.50" y="161.60" font-size="5.4" font-family="'Liberation Sans', Arial, sans-serif" font-weight="bold" fill="#1a1a1a" stroke="#1a1a1a" stroke-width="0.28" text-anchor="start">-3</text>
</svg></body></html>
